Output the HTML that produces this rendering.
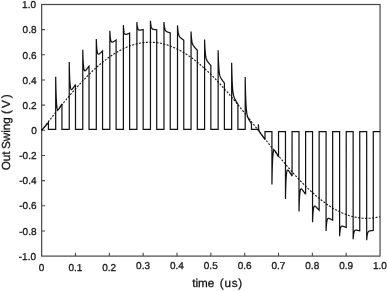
<!DOCTYPE html><html><head><meta charset="utf-8"><title>Out Swing</title><style>html,body{margin:0;padding:0;background:#fff}svg{display:block}text{font-family:"Liberation Sans",sans-serif;fill:#151515;stroke:#151515;stroke-width:0.3px;text-rendering:geometricPrecision}</style></head><body>
<svg width="387" height="291" viewBox="0 0 387 291">
<rect width="387" height="291" fill="#fff"/>
<rect x="41.65" y="4.50" width="338.40" height="251.60" fill="none" stroke="#484848" stroke-width="1.2"/>
<path d="M41.65 29.66 h3.4 M75.49 256.10 v-3.4 M41.65 54.82 h3.4 M109.33 256.10 v-3.4 M41.65 79.98 h3.4 M143.17 256.10 v-3.4 M41.65 105.14 h3.4 M177.01 256.10 v-3.4 M41.65 130.30 h3.4 M210.85 256.10 v-3.4 M41.65 155.46 h3.4 M244.69 256.10 v-3.4 M41.65 180.62 h3.4 M278.53 256.10 v-3.4 M41.65 205.78 h3.4 M312.37 256.10 v-3.4 M41.65 230.94 h3.4 M346.21 256.10 v-3.4" stroke="#484848" stroke-width="1.1" fill="none"/>
<text x="36.0" y="8.20" font-size="10" text-anchor="end">1.0</text>
<text x="36.5" y="33.36" font-size="10" text-anchor="end">0.8</text>
<text x="36.5" y="58.52" font-size="10" text-anchor="end">0.6</text>
<text x="36.5" y="83.68" font-size="10" text-anchor="end">0.4</text>
<text x="36.5" y="108.84" font-size="10" text-anchor="end">0.2</text>
<text x="36.7" y="134.00" font-size="10" text-anchor="end">0</text>
<text x="36.5" y="159.16" font-size="10" text-anchor="end">-0.2</text>
<text x="36.5" y="184.32" font-size="10" text-anchor="end">-0.4</text>
<text x="36.5" y="209.48" font-size="10" text-anchor="end">-0.6</text>
<text x="36.5" y="234.64" font-size="10" text-anchor="end">-0.8</text>
<text x="36.0" y="259.80" font-size="10" text-anchor="end">-1.0</text>
<text x="41.55" y="270.60" font-size="10" text-anchor="middle">0</text>
<text x="75.39" y="270.60" font-size="10" text-anchor="middle">0.1</text>
<text x="109.23" y="270.60" font-size="10" text-anchor="middle">0.2</text>
<text x="143.07" y="268.80" font-size="10" text-anchor="middle">0.3</text>
<text x="176.91" y="268.80" font-size="10" text-anchor="middle">0.4</text>
<text x="210.75" y="268.80" font-size="10" text-anchor="middle">0.5</text>
<text x="244.59" y="268.80" font-size="10" text-anchor="middle">0.6</text>
<text x="278.43" y="268.80" font-size="10" text-anchor="middle">0.7</text>
<text x="312.27" y="268.80" font-size="10" text-anchor="middle">0.8</text>
<text x="346.11" y="268.80" font-size="10" text-anchor="middle">0.9</text>
<text x="379.95" y="268.80" font-size="10" text-anchor="middle">1.0</text>
<text x="192.2" y="287" font-size="11.7">time</text>
<text x="219.8" y="287" font-size="11.7" letter-spacing="0.75">(us)</text>
<text transform="translate(9.9,170.3) rotate(-90)" font-size="11.7">Out</text>
<text transform="translate(9.9,149.1) rotate(-90)" font-size="11.7">Swing</text>
<text transform="translate(9.9,114.0) rotate(-90)" font-size="11.7" letter-spacing="2">(V)</text>
<path d="M41.65 130.30 L41.65 130.30 L48.42 122.50 L48.42 129.29 L55.69 129.29 L55.69 76.84 L55.72 78.59 L55.76 80.26 L55.79 81.85 L55.82 83.36 L55.85 84.80 L55.88 86.16 L55.91 87.46 L55.94 88.69 L55.98 89.86 L56.01 90.98 L56.04 92.03 L56.07 93.04 L56.10 93.99 L56.13 94.90 L56.16 95.76 L56.19 96.58 L56.23 97.35 L56.26 98.09 L56.29 98.79 L56.32 99.45 L56.35 100.08 L56.38 100.68 L56.41 101.24 L56.44 101.78 L56.48 102.28 L56.51 102.76 L56.54 103.22 L56.57 103.65 L56.60 104.06 L56.63 104.44 L56.66 104.81 L56.70 105.15 L56.73 105.48 L56.76 105.79 L56.79 106.08 L56.82 106.35 L56.85 106.61 L56.88 106.85 L56.91 107.08 L56.95 107.29 L56.98 107.50 L57.01 107.69 L57.04 107.87 L57.07 108.03 L57.10 108.19 L57.13 108.34 L57.16 108.47 L57.20 108.60 L57.23 108.72 L57.26 108.83 L57.29 108.93 L57.32 109.03 L57.35 109.12 L57.38 109.20 L57.42 109.27 L57.45 109.34 L57.48 109.40 L57.51 109.46 L57.54 109.51 L57.57 109.56 L57.60 109.60 L57.63 109.64 L57.67 109.67 L57.70 109.70 L57.73 109.72 L57.76 109.74 L57.79 109.76 L57.82 109.77 L57.85 109.78 L57.88 109.79 L57.92 109.79 L57.95 109.79 L57.98 109.79 L58.01 109.79 L58.04 109.78 L58.07 109.77 L58.10 109.76 L58.14 109.75 L58.17 109.73 L58.20 109.72 L58.23 109.70 L58.26 109.67 L58.29 109.65 L58.32 109.63 L58.35 109.60 L58.39 109.58 L58.42 109.55 L58.45 109.52 L58.48 109.49 L58.51 109.45 L58.54 109.42 L58.57 109.39 L58.60 109.35 L58.64 109.31 L58.67 109.28 L58.70 109.24 L58.73 109.20 L58.76 109.16 L58.79 109.12 L58.82 109.08 L58.86 109.03 L58.89 108.99 L58.92 108.95 L58.95 108.90 L58.98 108.86 L59.01 108.81 L59.04 108.77 L59.07 108.72 L59.11 108.67 L59.14 108.63 L59.17 108.58 L59.20 108.53 L59.23 108.48 L59.26 108.43 L59.29 108.39 L59.32 108.34 L59.36 108.29 L59.39 108.24 L59.42 108.19 L59.45 108.14 L59.48 108.08 L59.51 108.03 L59.54 107.98 L59.58 107.93 L59.61 107.88 L59.64 107.83 L59.67 107.77 L59.70 107.72 L59.73 107.67 L59.76 107.62 L59.79 107.56 L59.83 107.51 L59.86 107.46 L59.89 107.40 L59.92 107.35 L59.95 107.30 L59.98 107.24 L60.01 107.19 L60.04 107.14 L60.08 107.08 L60.11 107.03 L60.14 106.97 L60.17 106.92 L60.20 106.86 L60.23 106.81 L60.26 106.76 L60.29 106.70 L60.33 106.65 L60.36 106.59 L60.39 106.54 L60.42 106.48 L60.45 106.43 L60.48 106.37 L60.51 106.32 L60.55 106.26 L60.58 106.21 L60.61 106.15 L60.64 106.10 L60.67 106.04 L60.70 105.99 L60.73 105.93 L60.76 105.87 L60.80 105.82 L60.83 105.76 L60.86 105.71 L60.89 105.65 L60.92 105.60 L60.95 105.54 L60.98 105.49 L61.01 105.43 L61.05 105.37 L61.08 105.32 L61.11 105.26 L61.14 105.21 L61.17 105.15 L61.20 105.10 L61.23 105.04 L61.27 104.98 L61.30 104.93 L61.33 104.87 L61.36 104.82 L61.39 104.76 L61.42 104.71 L61.45 104.65 L61.48 104.59 L61.52 104.54 L61.55 104.48 L61.58 104.43 L61.61 104.37 L61.64 104.31 L61.67 104.26 L61.70 104.20 L61.73 104.15 L61.77 104.09 L61.80 104.03 L61.83 103.98 L61.86 103.92 L61.89 103.87 L61.92 103.81 L61.95 103.75 L61.95 129.29 L69.23 129.29 L69.23 62.05 L69.26 63.52 L69.29 64.92 L69.32 66.25 L69.35 67.51 L69.39 68.71 L69.42 69.85 L69.45 70.94 L69.48 71.97 L69.51 72.95 L69.54 73.88 L69.57 74.77 L69.61 75.61 L69.64 76.40 L69.67 77.16 L69.70 77.88 L69.73 78.57 L69.76 79.21 L69.79 79.83 L69.82 80.41 L69.86 80.97 L69.89 81.49 L69.92 81.99 L69.95 82.46 L69.98 82.91 L70.01 83.34 L70.04 83.74 L70.07 84.12 L70.11 84.48 L70.14 84.82 L70.17 85.14 L70.20 85.45 L70.23 85.73 L70.26 86.01 L70.29 86.26 L70.33 86.51 L70.36 86.73 L70.39 86.95 L70.42 87.15 L70.45 87.34 L70.48 87.52 L70.51 87.69 L70.54 87.85 L70.58 88.00 L70.61 88.14 L70.64 88.27 L70.67 88.39 L70.70 88.51 L70.73 88.61 L70.76 88.71 L70.79 88.80 L70.83 88.89 L70.86 88.97 L70.89 89.04 L70.92 89.11 L70.95 89.17 L70.98 89.23 L71.01 89.28 L71.05 89.33 L71.08 89.37 L71.11 89.41 L71.14 89.44 L71.17 89.48 L71.20 89.50 L71.23 89.53 L71.26 89.55 L71.30 89.56 L71.33 89.58 L71.36 89.59 L71.39 89.59 L71.42 89.60 L71.45 89.60 L71.48 89.60 L71.51 89.60 L71.55 89.60 L71.58 89.59 L71.61 89.58 L71.64 89.57 L71.67 89.56 L71.70 89.55 L71.73 89.53 L71.77 89.52 L71.80 89.50 L71.83 89.48 L71.86 89.46 L71.89 89.44 L71.92 89.42 L71.95 89.39 L71.98 89.37 L72.02 89.34 L72.05 89.31 L72.08 89.28 L72.11 89.25 L72.14 89.22 L72.17 89.19 L72.20 89.16 L72.23 89.13 L72.27 89.10 L72.30 89.06 L72.33 89.03 L72.36 88.99 L72.39 88.96 L72.42 88.92 L72.45 88.88 L72.49 88.85 L72.52 88.81 L72.55 88.77 L72.58 88.73 L72.61 88.69 L72.64 88.65 L72.67 88.61 L72.70 88.57 L72.74 88.53 L72.77 88.49 L72.80 88.45 L72.83 88.41 L72.86 88.37 L72.89 88.33 L72.92 88.28 L72.95 88.24 L72.99 88.20 L73.02 88.16 L73.05 88.11 L73.08 88.07 L73.11 88.03 L73.14 87.98 L73.17 87.94 L73.20 87.90 L73.24 87.85 L73.27 87.81 L73.30 87.76 L73.33 87.72 L73.36 87.67 L73.39 87.63 L73.42 87.58 L73.46 87.54 L73.49 87.49 L73.52 87.45 L73.55 87.40 L73.58 87.36 L73.61 87.31 L73.64 87.27 L73.67 87.22 L73.71 87.17 L73.74 87.13 L73.77 87.08 L73.80 87.04 L73.83 86.99 L73.86 86.94 L73.89 86.90 L73.92 86.85 L73.96 86.81 L73.99 86.76 L74.02 86.71 L74.05 86.67 L74.08 86.62 L74.11 86.57 L74.14 86.53 L74.18 86.48 L74.21 86.43 L74.24 86.39 L74.27 86.34 L74.30 86.29 L74.33 86.25 L74.36 86.20 L74.39 86.15 L74.43 86.11 L74.46 86.06 L74.49 86.01 L74.52 85.97 L74.55 85.92 L74.58 85.87 L74.61 85.83 L74.64 85.78 L74.68 85.73 L74.71 85.68 L74.74 85.64 L74.77 85.59 L74.80 85.54 L74.83 85.50 L74.86 85.45 L74.90 85.40 L74.93 85.36 L74.96 85.31 L74.99 85.26 L75.02 85.21 L75.05 85.17 L75.08 85.12 L75.11 85.07 L75.15 85.03 L75.18 84.98 L75.21 84.93 L75.24 84.88 L75.27 84.84 L75.30 84.79 L75.33 84.74 L75.36 84.70 L75.40 84.65 L75.43 84.60 L75.46 84.55 L75.49 84.51 L75.49 129.29 L82.77 129.29 L82.77 49.79 L82.80 50.92 L82.83 52.00 L82.86 53.03 L82.89 54.00 L82.92 54.93 L82.95 55.81 L82.98 56.65 L83.02 57.44 L83.05 58.20 L83.08 58.92 L83.11 59.60 L83.14 60.24 L83.17 60.86 L83.20 61.44 L83.24 62.00 L83.27 62.52 L83.30 63.02 L83.33 63.49 L83.36 63.94 L83.39 64.36 L83.42 64.77 L83.45 65.15 L83.49 65.51 L83.52 65.85 L83.55 66.17 L83.58 66.48 L83.61 66.77 L83.64 67.05 L83.67 67.30 L83.70 67.55 L83.74 67.78 L83.77 68.00 L83.80 68.20 L83.83 68.40 L83.86 68.58 L83.89 68.75 L83.92 68.92 L83.96 69.07 L83.99 69.21 L84.02 69.34 L84.05 69.47 L84.08 69.59 L84.11 69.70 L84.14 69.80 L84.17 69.90 L84.21 69.99 L84.24 70.07 L84.27 70.15 L84.30 70.22 L84.33 70.29 L84.36 70.35 L84.39 70.40 L84.42 70.45 L84.46 70.50 L84.49 70.54 L84.52 70.58 L84.55 70.62 L84.58 70.65 L84.61 70.68 L84.64 70.70 L84.68 70.72 L84.71 70.74 L84.74 70.76 L84.77 70.77 L84.80 70.78 L84.83 70.79 L84.86 70.79 L84.89 70.80 L84.93 70.80 L84.96 70.80 L84.99 70.79 L85.02 70.79 L85.05 70.78 L85.08 70.77 L85.11 70.76 L85.14 70.75 L85.18 70.74 L85.21 70.72 L85.24 70.71 L85.27 70.69 L85.30 70.67 L85.33 70.65 L85.36 70.63 L85.39 70.61 L85.43 70.59 L85.46 70.57 L85.49 70.54 L85.52 70.52 L85.55 70.49 L85.58 70.46 L85.61 70.44 L85.65 70.41 L85.68 70.38 L85.71 70.35 L85.74 70.32 L85.77 70.29 L85.80 70.26 L85.83 70.23 L85.86 70.19 L85.90 70.16 L85.93 70.13 L85.96 70.10 L85.99 70.06 L86.02 70.03 L86.05 69.99 L86.08 69.96 L86.11 69.92 L86.15 69.89 L86.18 69.85 L86.21 69.81 L86.24 69.78 L86.27 69.74 L86.30 69.70 L86.33 69.67 L86.37 69.63 L86.40 69.59 L86.43 69.55 L86.46 69.52 L86.49 69.48 L86.52 69.44 L86.55 69.40 L86.58 69.36 L86.62 69.32 L86.65 69.28 L86.68 69.24 L86.71 69.20 L86.74 69.16 L86.77 69.12 L86.80 69.09 L86.83 69.05 L86.87 69.01 L86.90 68.97 L86.93 68.92 L86.96 68.88 L86.99 68.84 L87.02 68.80 L87.05 68.76 L87.09 68.72 L87.12 68.68 L87.15 68.64 L87.18 68.60 L87.21 68.56 L87.24 68.52 L87.27 68.48 L87.30 68.44 L87.34 68.40 L87.37 68.35 L87.40 68.31 L87.43 68.27 L87.46 68.23 L87.49 68.19 L87.52 68.15 L87.55 68.11 L87.59 68.07 L87.62 68.02 L87.65 67.98 L87.68 67.94 L87.71 67.90 L87.74 67.86 L87.77 67.82 L87.81 67.77 L87.84 67.73 L87.87 67.69 L87.90 67.65 L87.93 67.61 L87.96 67.57 L87.99 67.52 L88.02 67.48 L88.06 67.44 L88.09 67.40 L88.12 67.36 L88.15 67.32 L88.18 67.27 L88.21 67.23 L88.24 67.19 L88.27 67.15 L88.31 67.11 L88.34 67.06 L88.37 67.02 L88.40 66.98 L88.43 66.94 L88.46 66.90 L88.49 66.85 L88.53 66.81 L88.56 66.77 L88.59 66.73 L88.62 66.69 L88.65 66.64 L88.68 66.60 L88.71 66.56 L88.74 66.52 L88.78 66.48 L88.81 66.43 L88.84 66.39 L88.87 66.35 L88.90 66.31 L88.93 66.27 L88.96 66.22 L88.99 66.18 L89.03 66.14 L89.03 129.29 L96.30 129.29 L96.30 39.04 L96.33 39.86 L96.36 40.64 L96.40 41.38 L96.43 42.08 L96.46 42.75 L96.49 43.38 L96.52 43.98 L96.55 44.55 L96.58 45.10 L96.61 45.61 L96.65 46.10 L96.68 46.57 L96.71 47.01 L96.74 47.43 L96.77 47.83 L96.80 48.21 L96.83 48.57 L96.87 48.91 L96.90 49.23 L96.93 49.54 L96.96 49.83 L96.99 50.10 L97.02 50.36 L97.05 50.61 L97.08 50.84 L97.12 51.06 L97.15 51.27 L97.18 51.47 L97.21 51.66 L97.24 51.83 L97.27 52.00 L97.30 52.16 L97.33 52.31 L97.37 52.45 L97.40 52.58 L97.43 52.70 L97.46 52.82 L97.49 52.93 L97.52 53.03 L97.55 53.13 L97.58 53.22 L97.62 53.31 L97.65 53.39 L97.68 53.46 L97.71 53.53 L97.74 53.60 L97.77 53.66 L97.80 53.71 L97.84 53.76 L97.87 53.81 L97.90 53.86 L97.93 53.90 L97.96 53.94 L97.99 53.97 L98.02 54.00 L98.05 54.03 L98.09 54.06 L98.12 54.08 L98.15 54.10 L98.18 54.12 L98.21 54.13 L98.24 54.15 L98.27 54.16 L98.30 54.17 L98.34 54.18 L98.37 54.18 L98.40 54.19 L98.43 54.19 L98.46 54.19 L98.49 54.19 L98.52 54.19 L98.56 54.19 L98.59 54.18 L98.62 54.18 L98.65 54.17 L98.68 54.16 L98.71 54.15 L98.74 54.14 L98.77 54.13 L98.81 54.12 L98.84 54.11 L98.87 54.10 L98.90 54.08 L98.93 54.07 L98.96 54.05 L98.99 54.03 L99.02 54.02 L99.06 54.00 L99.09 53.98 L99.12 53.96 L99.15 53.94 L99.18 53.93 L99.21 53.91 L99.24 53.88 L99.28 53.86 L99.31 53.84 L99.34 53.82 L99.37 53.80 L99.40 53.78 L99.43 53.75 L99.46 53.73 L99.49 53.71 L99.53 53.68 L99.56 53.66 L99.59 53.63 L99.62 53.61 L99.65 53.58 L99.68 53.56 L99.71 53.53 L99.74 53.51 L99.78 53.48 L99.81 53.46 L99.84 53.43 L99.87 53.40 L99.90 53.38 L99.93 53.35 L99.96 53.33 L100.00 53.30 L100.03 53.27 L100.06 53.24 L100.09 53.22 L100.12 53.19 L100.15 53.16 L100.18 53.13 L100.21 53.11 L100.25 53.08 L100.28 53.05 L100.31 53.02 L100.34 53.00 L100.37 52.97 L100.40 52.94 L100.43 52.91 L100.46 52.88 L100.50 52.85 L100.53 52.83 L100.56 52.80 L100.59 52.77 L100.62 52.74 L100.65 52.71 L100.68 52.68 L100.72 52.65 L100.75 52.62 L100.78 52.60 L100.81 52.57 L100.84 52.54 L100.87 52.51 L100.90 52.48 L100.93 52.45 L100.97 52.42 L101.00 52.39 L101.03 52.36 L101.06 52.33 L101.09 52.31 L101.12 52.28 L101.15 52.25 L101.18 52.22 L101.22 52.19 L101.25 52.16 L101.28 52.13 L101.31 52.10 L101.34 52.07 L101.37 52.04 L101.40 52.01 L101.44 51.98 L101.47 51.95 L101.50 51.92 L101.53 51.89 L101.56 51.87 L101.59 51.84 L101.62 51.81 L101.65 51.78 L101.69 51.75 L101.72 51.72 L101.75 51.69 L101.78 51.66 L101.81 51.63 L101.84 51.60 L101.87 51.57 L101.90 51.54 L101.94 51.51 L101.97 51.48 L102.00 51.45 L102.03 51.42 L102.06 51.39 L102.09 51.36 L102.12 51.33 L102.16 51.30 L102.19 51.27 L102.22 51.25 L102.25 51.22 L102.28 51.19 L102.31 51.16 L102.34 51.13 L102.37 51.10 L102.41 51.07 L102.44 51.04 L102.47 51.01 L102.50 50.98 L102.53 50.95 L102.56 50.92 L102.56 129.29 L109.84 129.29 L109.84 30.70 L109.87 31.31 L109.90 31.89 L109.93 32.44 L109.96 32.96 L109.99 33.45 L110.03 33.92 L110.06 34.37 L110.09 34.80 L110.12 35.20 L110.15 35.59 L110.18 35.95 L110.21 36.30 L110.24 36.63 L110.28 36.94 L110.31 37.24 L110.34 37.52 L110.37 37.79 L110.40 38.05 L110.43 38.29 L110.46 38.52 L110.49 38.73 L110.53 38.94 L110.56 39.14 L110.59 39.32 L110.62 39.50 L110.65 39.66 L110.68 39.82 L110.71 39.97 L110.75 40.11 L110.78 40.24 L110.81 40.37 L110.84 40.49 L110.87 40.60 L110.90 40.71 L110.93 40.81 L110.96 40.91 L111.00 41.00 L111.03 41.08 L111.06 41.16 L111.09 41.23 L111.12 41.30 L111.15 41.37 L111.18 41.43 L111.21 41.49 L111.25 41.55 L111.28 41.60 L111.31 41.64 L111.34 41.69 L111.37 41.73 L111.40 41.77 L111.43 41.81 L111.47 41.84 L111.50 41.87 L111.53 41.90 L111.56 41.92 L111.59 41.95 L111.62 41.97 L111.65 41.99 L111.68 42.01 L111.72 42.03 L111.75 42.04 L111.78 42.05 L111.81 42.07 L111.84 42.08 L111.87 42.09 L111.90 42.09 L111.93 42.10 L111.97 42.10 L112.00 42.11 L112.03 42.11 L112.06 42.11 L112.09 42.11 L112.12 42.11 L112.15 42.11 L112.19 42.11 L112.22 42.11 L112.25 42.11 L112.28 42.10 L112.31 42.10 L112.34 42.09 L112.37 42.09 L112.40 42.08 L112.44 42.07 L112.47 42.06 L112.50 42.05 L112.53 42.05 L112.56 42.04 L112.59 42.03 L112.62 42.02 L112.65 42.01 L112.69 42.00 L112.72 41.98 L112.75 41.97 L112.78 41.96 L112.81 41.95 L112.84 41.94 L112.87 41.92 L112.91 41.91 L112.94 41.90 L112.97 41.88 L113.00 41.87 L113.03 41.85 L113.06 41.84 L113.09 41.82 L113.12 41.81 L113.16 41.79 L113.19 41.78 L113.22 41.76 L113.25 41.75 L113.28 41.73 L113.31 41.72 L113.34 41.70 L113.37 41.68 L113.41 41.67 L113.44 41.65 L113.47 41.64 L113.50 41.62 L113.53 41.60 L113.56 41.59 L113.59 41.57 L113.63 41.55 L113.66 41.53 L113.69 41.52 L113.72 41.50 L113.75 41.48 L113.78 41.47 L113.81 41.45 L113.84 41.43 L113.88 41.41 L113.91 41.39 L113.94 41.38 L113.97 41.36 L114.00 41.34 L114.03 41.32 L114.06 41.31 L114.09 41.29 L114.13 41.27 L114.16 41.25 L114.19 41.23 L114.22 41.22 L114.25 41.20 L114.28 41.18 L114.31 41.16 L114.35 41.14 L114.38 41.12 L114.41 41.11 L114.44 41.09 L114.47 41.07 L114.50 41.05 L114.53 41.03 L114.56 41.01 L114.60 41.00 L114.63 40.98 L114.66 40.96 L114.69 40.94 L114.72 40.92 L114.75 40.90 L114.78 40.89 L114.81 40.87 L114.85 40.85 L114.88 40.83 L114.91 40.81 L114.94 40.79 L114.97 40.77 L115.00 40.76 L115.03 40.74 L115.07 40.72 L115.10 40.70 L115.13 40.68 L115.16 40.66 L115.19 40.64 L115.22 40.63 L115.25 40.61 L115.28 40.59 L115.32 40.57 L115.35 40.55 L115.38 40.53 L115.41 40.51 L115.44 40.49 L115.47 40.48 L115.50 40.46 L115.53 40.44 L115.57 40.42 L115.60 40.40 L115.63 40.38 L115.66 40.36 L115.69 40.34 L115.72 40.33 L115.75 40.31 L115.78 40.29 L115.82 40.27 L115.85 40.25 L115.88 40.23 L115.91 40.21 L115.94 40.19 L115.97 40.18 L116.00 40.16 L116.04 40.14 L116.07 40.12 L116.10 40.10 L116.10 129.29 L123.37 129.29 L123.37 25.13 L123.40 25.62 L123.44 26.09 L123.47 26.54 L123.50 26.96 L123.53 27.36 L123.56 27.75 L123.59 28.11 L123.62 28.46 L123.66 28.79 L123.69 29.10 L123.72 29.40 L123.75 29.68 L123.78 29.95 L123.81 30.20 L123.84 30.45 L123.87 30.68 L123.91 30.89 L123.94 31.10 L123.97 31.30 L124.00 31.49 L124.03 31.66 L124.06 31.83 L124.09 31.99 L124.12 32.14 L124.16 32.29 L124.19 32.43 L124.22 32.55 L124.25 32.68 L124.28 32.79 L124.31 32.90 L124.34 33.01 L124.38 33.11 L124.41 33.20 L124.44 33.29 L124.47 33.37 L124.50 33.45 L124.53 33.52 L124.56 33.59 L124.59 33.66 L124.63 33.72 L124.66 33.78 L124.69 33.84 L124.72 33.89 L124.75 33.94 L124.78 33.99 L124.81 34.03 L124.84 34.07 L124.88 34.11 L124.91 34.14 L124.94 34.18 L124.97 34.21 L125.00 34.24 L125.03 34.26 L125.06 34.29 L125.10 34.31 L125.13 34.33 L125.16 34.35 L125.19 34.37 L125.22 34.39 L125.25 34.40 L125.28 34.42 L125.31 34.43 L125.35 34.44 L125.38 34.45 L125.41 34.46 L125.44 34.47 L125.47 34.48 L125.50 34.48 L125.53 34.49 L125.56 34.49 L125.60 34.50 L125.63 34.50 L125.66 34.50 L125.69 34.50 L125.72 34.50 L125.75 34.50 L125.78 34.50 L125.82 34.50 L125.85 34.50 L125.88 34.50 L125.91 34.49 L125.94 34.49 L125.97 34.49 L126.00 34.48 L126.03 34.48 L126.07 34.47 L126.10 34.47 L126.13 34.46 L126.16 34.46 L126.19 34.45 L126.22 34.44 L126.25 34.43 L126.28 34.43 L126.32 34.42 L126.35 34.41 L126.38 34.40 L126.41 34.39 L126.44 34.39 L126.47 34.38 L126.50 34.37 L126.54 34.36 L126.57 34.35 L126.60 34.34 L126.63 34.33 L126.66 34.32 L126.69 34.31 L126.72 34.30 L126.75 34.29 L126.79 34.28 L126.82 34.27 L126.85 34.26 L126.88 34.25 L126.91 34.24 L126.94 34.22 L126.97 34.21 L127.00 34.20 L127.04 34.19 L127.07 34.18 L127.10 34.17 L127.13 34.16 L127.16 34.14 L127.19 34.13 L127.22 34.12 L127.26 34.11 L127.29 34.10 L127.32 34.08 L127.35 34.07 L127.38 34.06 L127.41 34.05 L127.44 34.04 L127.47 34.02 L127.51 34.01 L127.54 34.00 L127.57 33.99 L127.60 33.97 L127.63 33.96 L127.66 33.95 L127.69 33.94 L127.72 33.92 L127.76 33.91 L127.79 33.90 L127.82 33.89 L127.85 33.87 L127.88 33.86 L127.91 33.85 L127.94 33.83 L127.97 33.82 L128.01 33.81 L128.04 33.80 L128.07 33.78 L128.10 33.77 L128.13 33.76 L128.16 33.75 L128.19 33.73 L128.23 33.72 L128.26 33.71 L128.29 33.69 L128.32 33.68 L128.35 33.67 L128.38 33.65 L128.41 33.64 L128.44 33.63 L128.48 33.62 L128.51 33.60 L128.54 33.59 L128.57 33.58 L128.60 33.56 L128.63 33.55 L128.66 33.54 L128.69 33.52 L128.73 33.51 L128.76 33.50 L128.79 33.49 L128.82 33.47 L128.85 33.46 L128.88 33.45 L128.91 33.43 L128.95 33.42 L128.98 33.41 L129.01 33.39 L129.04 33.38 L129.07 33.37 L129.10 33.35 L129.13 33.34 L129.16 33.33 L129.20 33.32 L129.23 33.30 L129.26 33.29 L129.29 33.28 L129.32 33.26 L129.35 33.25 L129.38 33.24 L129.41 33.22 L129.45 33.21 L129.48 33.20 L129.51 33.18 L129.54 33.17 L129.57 33.16 L129.60 33.14 L129.63 33.13 L129.63 129.29 L136.91 129.29 L136.91 22.11 L136.94 22.52 L136.97 22.92 L137.00 23.29 L137.03 23.65 L137.07 23.98 L137.10 24.31 L137.13 24.61 L137.16 24.90 L137.19 25.18 L137.22 25.44 L137.25 25.69 L137.29 25.93 L137.32 26.16 L137.35 26.38 L137.38 26.58 L137.41 26.78 L137.44 26.96 L137.47 27.14 L137.50 27.31 L137.54 27.46 L137.57 27.62 L137.60 27.76 L137.63 27.90 L137.66 28.03 L137.69 28.15 L137.72 28.27 L137.75 28.38 L137.79 28.48 L137.82 28.58 L137.85 28.68 L137.88 28.77 L137.91 28.86 L137.94 28.94 L137.97 29.01 L138.01 29.09 L138.04 29.16 L138.07 29.22 L138.10 29.28 L138.13 29.34 L138.16 29.40 L138.19 29.45 L138.22 29.50 L138.26 29.55 L138.29 29.59 L138.32 29.64 L138.35 29.68 L138.38 29.71 L138.41 29.75 L138.44 29.78 L138.47 29.81 L138.51 29.84 L138.54 29.87 L138.57 29.90 L138.60 29.92 L138.63 29.95 L138.66 29.97 L138.69 29.99 L138.73 30.01 L138.76 30.02 L138.79 30.04 L138.82 30.06 L138.85 30.07 L138.88 30.09 L138.91 30.10 L138.94 30.11 L138.98 30.12 L139.01 30.13 L139.04 30.14 L139.07 30.15 L139.10 30.15 L139.13 30.16 L139.16 30.17 L139.19 30.17 L139.23 30.18 L139.26 30.18 L139.29 30.19 L139.32 30.19 L139.35 30.19 L139.38 30.20 L139.41 30.20 L139.45 30.20 L139.48 30.20 L139.51 30.20 L139.54 30.20 L139.57 30.20 L139.60 30.20 L139.63 30.20 L139.66 30.20 L139.70 30.20 L139.73 30.20 L139.76 30.19 L139.79 30.19 L139.82 30.19 L139.85 30.19 L139.88 30.18 L139.91 30.18 L139.95 30.18 L139.98 30.18 L140.01 30.17 L140.04 30.17 L140.07 30.16 L140.10 30.16 L140.13 30.16 L140.17 30.15 L140.20 30.15 L140.23 30.14 L140.26 30.14 L140.29 30.13 L140.32 30.13 L140.35 30.12 L140.38 30.12 L140.42 30.11 L140.45 30.11 L140.48 30.10 L140.51 30.10 L140.54 30.09 L140.57 30.09 L140.60 30.08 L140.63 30.08 L140.67 30.07 L140.70 30.06 L140.73 30.06 L140.76 30.05 L140.79 30.05 L140.82 30.04 L140.85 30.03 L140.88 30.03 L140.92 30.02 L140.95 30.02 L140.98 30.01 L141.01 30.00 L141.04 30.00 L141.07 29.99 L141.10 29.98 L141.14 29.98 L141.17 29.97 L141.20 29.97 L141.23 29.96 L141.26 29.95 L141.29 29.95 L141.32 29.94 L141.35 29.93 L141.39 29.93 L141.42 29.92 L141.45 29.91 L141.48 29.91 L141.51 29.90 L141.54 29.89 L141.57 29.89 L141.60 29.88 L141.64 29.87 L141.67 29.87 L141.70 29.86 L141.73 29.85 L141.76 29.85 L141.79 29.84 L141.82 29.83 L141.86 29.83 L141.89 29.82 L141.92 29.81 L141.95 29.80 L141.98 29.80 L142.01 29.79 L142.04 29.78 L142.07 29.78 L142.11 29.77 L142.14 29.76 L142.17 29.76 L142.20 29.75 L142.23 29.74 L142.26 29.74 L142.29 29.73 L142.32 29.72 L142.36 29.71 L142.39 29.71 L142.42 29.70 L142.45 29.69 L142.48 29.69 L142.51 29.68 L142.54 29.67 L142.58 29.67 L142.61 29.66 L142.64 29.65 L142.67 29.65 L142.70 29.64 L142.73 29.63 L142.76 29.62 L142.79 29.62 L142.83 29.61 L142.86 29.60 L142.89 29.60 L142.92 29.59 L142.95 29.58 L142.98 29.58 L143.01 29.57 L143.04 29.56 L143.08 29.55 L143.11 29.55 L143.14 29.54 L143.17 29.53 L143.17 129.29 L150.45 129.29 L150.45 20.79 L150.48 21.19 L150.51 21.58 L150.54 21.94 L150.57 22.29 L150.60 22.63 L150.63 22.94 L150.66 23.25 L150.70 23.53 L150.73 23.81 L150.76 24.07 L150.79 24.32 L150.82 24.55 L150.85 24.78 L150.88 25.00 L150.92 25.20 L150.95 25.40 L150.98 25.58 L151.01 25.76 L151.04 25.93 L151.07 26.09 L151.10 26.25 L151.13 26.39 L151.17 26.53 L151.20 26.67 L151.23 26.79 L151.26 26.92 L151.29 27.03 L151.32 27.14 L151.35 27.25 L151.38 27.35 L151.42 27.44 L151.45 27.54 L151.48 27.62 L151.51 27.71 L151.54 27.79 L151.57 27.86 L151.60 27.93 L151.64 28.00 L151.67 28.07 L151.70 28.13 L151.73 28.19 L151.76 28.25 L151.79 28.30 L151.82 28.35 L151.85 28.40 L151.89 28.45 L151.92 28.50 L151.95 28.54 L151.98 28.58 L152.01 28.62 L152.04 28.66 L152.07 28.70 L152.10 28.73 L152.14 28.76 L152.17 28.80 L152.20 28.83 L152.23 28.86 L152.26 28.88 L152.29 28.91 L152.32 28.94 L152.36 28.96 L152.39 28.98 L152.42 29.01 L152.45 29.03 L152.48 29.05 L152.51 29.07 L152.54 29.09 L152.57 29.10 L152.61 29.12 L152.64 29.14 L152.67 29.15 L152.70 29.17 L152.73 29.19 L152.76 29.20 L152.79 29.21 L152.82 29.23 L152.86 29.24 L152.89 29.25 L152.92 29.26 L152.95 29.27 L152.98 29.29 L153.01 29.30 L153.04 29.31 L153.07 29.32 L153.11 29.33 L153.14 29.34 L153.17 29.34 L153.20 29.35 L153.23 29.36 L153.26 29.37 L153.29 29.38 L153.33 29.38 L153.36 29.39 L153.39 29.40 L153.42 29.41 L153.45 29.41 L153.48 29.42 L153.51 29.43 L153.54 29.43 L153.58 29.44 L153.61 29.44 L153.64 29.45 L153.67 29.46 L153.70 29.46 L153.73 29.47 L153.76 29.47 L153.79 29.48 L153.83 29.48 L153.86 29.49 L153.89 29.49 L153.92 29.50 L153.95 29.50 L153.98 29.51 L154.01 29.51 L154.05 29.51 L154.08 29.52 L154.11 29.52 L154.14 29.53 L154.17 29.53 L154.20 29.53 L154.23 29.54 L154.26 29.54 L154.30 29.55 L154.33 29.55 L154.36 29.55 L154.39 29.56 L154.42 29.56 L154.45 29.57 L154.48 29.57 L154.51 29.57 L154.55 29.58 L154.58 29.58 L154.61 29.58 L154.64 29.59 L154.67 29.59 L154.70 29.59 L154.73 29.60 L154.77 29.60 L154.80 29.60 L154.83 29.61 L154.86 29.61 L154.89 29.61 L154.92 29.62 L154.95 29.62 L154.98 29.62 L155.02 29.63 L155.05 29.63 L155.08 29.63 L155.11 29.64 L155.14 29.64 L155.17 29.64 L155.20 29.64 L155.23 29.65 L155.27 29.65 L155.30 29.65 L155.33 29.66 L155.36 29.66 L155.39 29.66 L155.42 29.67 L155.45 29.67 L155.49 29.67 L155.52 29.68 L155.55 29.68 L155.58 29.68 L155.61 29.68 L155.64 29.69 L155.67 29.69 L155.70 29.69 L155.74 29.70 L155.77 29.70 L155.80 29.70 L155.83 29.70 L155.86 29.71 L155.89 29.71 L155.92 29.71 L155.95 29.72 L155.99 29.72 L156.02 29.72 L156.05 29.72 L156.08 29.73 L156.11 29.73 L156.14 29.73 L156.17 29.74 L156.21 29.74 L156.24 29.74 L156.27 29.75 L156.30 29.75 L156.33 29.75 L156.36 29.75 L156.39 29.76 L156.42 29.76 L156.46 29.76 L156.49 29.77 L156.52 29.77 L156.55 29.77 L156.58 29.77 L156.61 29.78 L156.64 29.78 L156.67 29.78 L156.71 29.79 L156.71 129.29 L163.98 129.29 L163.98 22.11 L164.01 22.54 L164.04 22.94 L164.08 23.33 L164.11 23.70 L164.14 24.05 L164.17 24.39 L164.20 24.71 L164.23 25.02 L164.26 25.31 L164.29 25.59 L164.33 25.85 L164.36 26.10 L164.39 26.35 L164.42 26.58 L164.45 26.80 L164.48 27.01 L164.51 27.21 L164.55 27.40 L164.58 27.59 L164.61 27.76 L164.64 27.93 L164.67 28.09 L164.70 28.24 L164.73 28.39 L164.76 28.53 L164.80 28.66 L164.83 28.79 L164.86 28.91 L164.89 29.03 L164.92 29.14 L164.95 29.24 L164.98 29.35 L165.01 29.44 L165.05 29.54 L165.08 29.63 L165.11 29.71 L165.14 29.80 L165.17 29.87 L165.20 29.95 L165.23 30.02 L165.26 30.09 L165.30 30.16 L165.33 30.22 L165.36 30.29 L165.39 30.34 L165.42 30.40 L165.45 30.46 L165.48 30.51 L165.52 30.56 L165.55 30.61 L165.58 30.65 L165.61 30.70 L165.64 30.74 L165.67 30.78 L165.70 30.83 L165.73 30.86 L165.77 30.90 L165.80 30.94 L165.83 30.97 L165.86 31.01 L165.89 31.04 L165.92 31.07 L165.95 31.10 L165.98 31.13 L166.02 31.16 L166.05 31.19 L166.08 31.22 L166.11 31.24 L166.14 31.27 L166.17 31.29 L166.20 31.32 L166.24 31.34 L166.27 31.36 L166.30 31.38 L166.33 31.41 L166.36 31.43 L166.39 31.45 L166.42 31.47 L166.45 31.49 L166.49 31.51 L166.52 31.53 L166.55 31.54 L166.58 31.56 L166.61 31.58 L166.64 31.60 L166.67 31.61 L166.70 31.63 L166.74 31.65 L166.77 31.66 L166.80 31.68 L166.83 31.70 L166.86 31.71 L166.89 31.73 L166.92 31.74 L166.96 31.76 L166.99 31.77 L167.02 31.78 L167.05 31.80 L167.08 31.81 L167.11 31.83 L167.14 31.84 L167.17 31.85 L167.21 31.87 L167.24 31.88 L167.27 31.89 L167.30 31.91 L167.33 31.92 L167.36 31.93 L167.39 31.94 L167.42 31.96 L167.46 31.97 L167.49 31.98 L167.52 31.99 L167.55 32.00 L167.58 32.02 L167.61 32.03 L167.64 32.04 L167.68 32.05 L167.71 32.06 L167.74 32.08 L167.77 32.09 L167.80 32.10 L167.83 32.11 L167.86 32.12 L167.89 32.13 L167.93 32.14 L167.96 32.16 L167.99 32.17 L168.02 32.18 L168.05 32.19 L168.08 32.20 L168.11 32.21 L168.14 32.22 L168.18 32.23 L168.21 32.24 L168.24 32.25 L168.27 32.27 L168.30 32.28 L168.33 32.29 L168.36 32.30 L168.40 32.31 L168.43 32.32 L168.46 32.33 L168.49 32.34 L168.52 32.35 L168.55 32.36 L168.58 32.37 L168.61 32.38 L168.65 32.40 L168.68 32.41 L168.71 32.42 L168.74 32.43 L168.77 32.44 L168.80 32.45 L168.83 32.46 L168.86 32.47 L168.90 32.48 L168.93 32.49 L168.96 32.50 L168.99 32.51 L169.02 32.52 L169.05 32.53 L169.08 32.54 L169.12 32.55 L169.15 32.56 L169.18 32.58 L169.21 32.59 L169.24 32.60 L169.27 32.61 L169.30 32.62 L169.33 32.63 L169.37 32.64 L169.40 32.65 L169.43 32.66 L169.46 32.67 L169.49 32.68 L169.52 32.69 L169.55 32.70 L169.58 32.71 L169.62 32.72 L169.65 32.73 L169.68 32.74 L169.71 32.75 L169.74 32.76 L169.77 32.77 L169.80 32.78 L169.84 32.79 L169.87 32.81 L169.90 32.82 L169.93 32.83 L169.96 32.84 L169.99 32.85 L170.02 32.86 L170.05 32.87 L170.09 32.88 L170.12 32.89 L170.15 32.90 L170.18 32.91 L170.21 32.92 L170.24 32.93 L170.24 129.29 L177.52 129.29 L177.52 25.38 L177.55 25.89 L177.58 26.37 L177.61 26.83 L177.64 27.27 L177.67 27.69 L177.71 28.09 L177.74 28.47 L177.77 28.83 L177.80 29.18 L177.83 29.52 L177.86 29.84 L177.89 30.14 L177.92 30.43 L177.96 30.71 L177.99 30.98 L178.02 31.23 L178.05 31.48 L178.08 31.71 L178.11 31.94 L178.14 32.15 L178.17 32.36 L178.21 32.55 L178.24 32.74 L178.27 32.92 L178.30 33.09 L178.33 33.26 L178.36 33.42 L178.39 33.57 L178.43 33.72 L178.46 33.86 L178.49 33.99 L178.52 34.12 L178.55 34.25 L178.58 34.37 L178.61 34.48 L178.64 34.60 L178.68 34.70 L178.71 34.81 L178.74 34.90 L178.77 35.00 L178.80 35.09 L178.83 35.18 L178.86 35.27 L178.89 35.35 L178.93 35.43 L178.96 35.51 L178.99 35.58 L179.02 35.65 L179.05 35.73 L179.08 35.79 L179.11 35.86 L179.15 35.92 L179.18 35.98 L179.21 36.04 L179.24 36.10 L179.27 36.16 L179.30 36.21 L179.33 36.27 L179.36 36.32 L179.40 36.37 L179.43 36.42 L179.46 36.47 L179.49 36.52 L179.52 36.56 L179.55 36.61 L179.58 36.65 L179.61 36.69 L179.65 36.74 L179.68 36.78 L179.71 36.82 L179.74 36.86 L179.77 36.90 L179.80 36.93 L179.83 36.97 L179.87 37.01 L179.90 37.04 L179.93 37.08 L179.96 37.11 L179.99 37.15 L180.02 37.18 L180.05 37.22 L180.08 37.25 L180.12 37.28 L180.15 37.31 L180.18 37.35 L180.21 37.38 L180.24 37.41 L180.27 37.44 L180.30 37.47 L180.33 37.50 L180.37 37.53 L180.40 37.56 L180.43 37.59 L180.46 37.62 L180.49 37.64 L180.52 37.67 L180.55 37.70 L180.59 37.73 L180.62 37.76 L180.65 37.78 L180.68 37.81 L180.71 37.84 L180.74 37.87 L180.77 37.89 L180.80 37.92 L180.84 37.95 L180.87 37.97 L180.90 38.00 L180.93 38.02 L180.96 38.05 L180.99 38.08 L181.02 38.10 L181.05 38.13 L181.09 38.15 L181.12 38.18 L181.15 38.20 L181.18 38.23 L181.21 38.26 L181.24 38.28 L181.27 38.31 L181.31 38.33 L181.34 38.36 L181.37 38.38 L181.40 38.41 L181.43 38.43 L181.46 38.46 L181.49 38.48 L181.52 38.50 L181.56 38.53 L181.59 38.55 L181.62 38.58 L181.65 38.60 L181.68 38.63 L181.71 38.65 L181.74 38.68 L181.77 38.70 L181.81 38.72 L181.84 38.75 L181.87 38.77 L181.90 38.80 L181.93 38.82 L181.96 38.85 L181.99 38.87 L182.03 38.89 L182.06 38.92 L182.09 38.94 L182.12 38.97 L182.15 38.99 L182.18 39.01 L182.21 39.04 L182.24 39.06 L182.28 39.09 L182.31 39.11 L182.34 39.13 L182.37 39.16 L182.40 39.18 L182.43 39.21 L182.46 39.23 L182.49 39.25 L182.53 39.28 L182.56 39.30 L182.59 39.32 L182.62 39.35 L182.65 39.37 L182.68 39.40 L182.71 39.42 L182.75 39.44 L182.78 39.47 L182.81 39.49 L182.84 39.52 L182.87 39.54 L182.90 39.56 L182.93 39.59 L182.96 39.61 L183.00 39.63 L183.03 39.66 L183.06 39.68 L183.09 39.71 L183.12 39.73 L183.15 39.75 L183.18 39.78 L183.21 39.80 L183.25 39.82 L183.28 39.85 L183.31 39.87 L183.34 39.89 L183.37 39.92 L183.40 39.94 L183.43 39.97 L183.46 39.99 L183.50 40.01 L183.53 40.04 L183.56 40.06 L183.59 40.08 L183.62 40.11 L183.65 40.13 L183.68 40.16 L183.72 40.18 L183.75 40.20 L183.78 40.23 L183.78 129.29 L191.05 129.29 L191.05 31.42 L191.08 32.03 L191.12 32.61 L191.15 33.16 L191.18 33.69 L191.21 34.20 L191.24 34.68 L191.27 35.15 L191.30 35.59 L191.34 36.01 L191.37 36.42 L191.40 36.80 L191.43 37.17 L191.46 37.53 L191.49 37.86 L191.52 38.19 L191.55 38.50 L191.59 38.80 L191.62 39.08 L191.65 39.35 L191.68 39.62 L191.71 39.87 L191.74 40.11 L191.77 40.34 L191.80 40.56 L191.84 40.77 L191.87 40.98 L191.90 41.17 L191.93 41.36 L191.96 41.54 L191.99 41.71 L192.02 41.88 L192.06 42.04 L192.09 42.20 L192.12 42.35 L192.15 42.49 L192.18 42.63 L192.21 42.76 L192.24 42.89 L192.27 43.01 L192.31 43.13 L192.34 43.25 L192.37 43.36 L192.40 43.47 L192.43 43.57 L192.46 43.68 L192.49 43.77 L192.52 43.87 L192.56 43.96 L192.59 44.05 L192.62 44.14 L192.65 44.22 L192.68 44.30 L192.71 44.38 L192.74 44.46 L192.78 44.54 L192.81 44.61 L192.84 44.68 L192.87 44.75 L192.90 44.82 L192.93 44.89 L192.96 44.95 L192.99 45.01 L193.03 45.08 L193.06 45.14 L193.09 45.20 L193.12 45.25 L193.15 45.31 L193.18 45.37 L193.21 45.42 L193.24 45.48 L193.28 45.53 L193.31 45.58 L193.34 45.63 L193.37 45.68 L193.40 45.73 L193.43 45.78 L193.46 45.83 L193.50 45.88 L193.53 45.92 L193.56 45.97 L193.59 46.02 L193.62 46.06 L193.65 46.10 L193.68 46.15 L193.71 46.19 L193.75 46.24 L193.78 46.28 L193.81 46.32 L193.84 46.36 L193.87 46.40 L193.90 46.45 L193.93 46.49 L193.96 46.53 L194.00 46.57 L194.03 46.61 L194.06 46.65 L194.09 46.69 L194.12 46.72 L194.15 46.76 L194.18 46.80 L194.22 46.84 L194.25 46.88 L194.28 46.92 L194.31 46.95 L194.34 46.99 L194.37 47.03 L194.40 47.07 L194.43 47.10 L194.47 47.14 L194.50 47.18 L194.53 47.21 L194.56 47.25 L194.59 47.29 L194.62 47.32 L194.65 47.36 L194.68 47.40 L194.72 47.43 L194.75 47.47 L194.78 47.50 L194.81 47.54 L194.84 47.57 L194.87 47.61 L194.90 47.65 L194.94 47.68 L194.97 47.72 L195.00 47.75 L195.03 47.79 L195.06 47.82 L195.09 47.86 L195.12 47.89 L195.15 47.93 L195.19 47.96 L195.22 48.00 L195.25 48.03 L195.28 48.07 L195.31 48.10 L195.34 48.14 L195.37 48.17 L195.40 48.21 L195.44 48.24 L195.47 48.27 L195.50 48.31 L195.53 48.34 L195.56 48.38 L195.59 48.41 L195.62 48.45 L195.65 48.48 L195.69 48.52 L195.72 48.55 L195.75 48.58 L195.78 48.62 L195.81 48.65 L195.84 48.69 L195.87 48.72 L195.91 48.76 L195.94 48.79 L195.97 48.82 L196.00 48.86 L196.03 48.89 L196.06 48.93 L196.09 48.96 L196.12 49.00 L196.16 49.03 L196.19 49.06 L196.22 49.10 L196.25 49.13 L196.28 49.17 L196.31 49.20 L196.34 49.24 L196.37 49.27 L196.41 49.30 L196.44 49.34 L196.47 49.37 L196.50 49.41 L196.53 49.44 L196.56 49.47 L196.59 49.51 L196.63 49.54 L196.66 49.58 L196.69 49.61 L196.72 49.64 L196.75 49.68 L196.78 49.71 L196.81 49.75 L196.84 49.78 L196.88 49.81 L196.91 49.85 L196.94 49.88 L196.97 49.92 L197.00 49.95 L197.03 49.98 L197.06 50.02 L197.09 50.05 L197.13 50.09 L197.16 50.12 L197.19 50.15 L197.22 50.19 L197.25 50.22 L197.28 50.26 L197.31 50.29 L197.31 129.29 L204.59 129.29 L204.59 39.51 L204.62 40.43 L204.65 41.31 L204.68 42.15 L204.71 42.95 L204.75 43.71 L204.78 44.44 L204.81 45.14 L204.84 45.80 L204.87 46.44 L204.90 47.04 L204.93 47.62 L204.97 48.18 L205.00 48.71 L205.03 49.21 L205.06 49.70 L205.09 50.16 L205.12 50.60 L205.15 51.02 L205.18 51.43 L205.22 51.82 L205.25 52.19 L205.28 52.54 L205.31 52.88 L205.34 53.21 L205.37 53.52 L205.40 53.82 L205.43 54.10 L205.47 54.38 L205.50 54.64 L205.53 54.89 L205.56 55.13 L205.59 55.37 L205.62 55.59 L205.65 55.80 L205.69 56.01 L205.72 56.21 L205.75 56.40 L205.78 56.58 L205.81 56.76 L205.84 56.92 L205.87 57.09 L205.90 57.24 L205.94 57.40 L205.97 57.54 L206.00 57.68 L206.03 57.82 L206.06 57.95 L206.09 58.08 L206.12 58.20 L206.15 58.32 L206.19 58.43 L206.22 58.54 L206.25 58.65 L206.28 58.75 L206.31 58.85 L206.34 58.95 L206.37 59.05 L206.41 59.14 L206.44 59.23 L206.47 59.32 L206.50 59.40 L206.53 59.48 L206.56 59.56 L206.59 59.64 L206.62 59.72 L206.66 59.79 L206.69 59.87 L206.72 59.94 L206.75 60.01 L206.78 60.07 L206.81 60.14 L206.84 60.20 L206.87 60.27 L206.91 60.33 L206.94 60.39 L206.97 60.45 L207.00 60.51 L207.03 60.57 L207.06 60.63 L207.09 60.68 L207.13 60.74 L207.16 60.79 L207.19 60.84 L207.22 60.90 L207.25 60.95 L207.28 61.00 L207.31 61.05 L207.34 61.10 L207.38 61.15 L207.41 61.20 L207.44 61.25 L207.47 61.29 L207.50 61.34 L207.53 61.39 L207.56 61.43 L207.59 61.48 L207.63 61.53 L207.66 61.57 L207.69 61.61 L207.72 61.66 L207.75 61.70 L207.78 61.75 L207.81 61.79 L207.85 61.83 L207.88 61.88 L207.91 61.92 L207.94 61.96 L207.97 62.00 L208.00 62.04 L208.03 62.09 L208.06 62.13 L208.10 62.17 L208.13 62.21 L208.16 62.25 L208.19 62.29 L208.22 62.33 L208.25 62.37 L208.28 62.41 L208.31 62.45 L208.35 62.49 L208.38 62.53 L208.41 62.57 L208.44 62.61 L208.47 62.65 L208.50 62.69 L208.53 62.73 L208.56 62.77 L208.60 62.80 L208.63 62.84 L208.66 62.88 L208.69 62.92 L208.72 62.96 L208.75 63.00 L208.78 63.04 L208.82 63.07 L208.85 63.11 L208.88 63.15 L208.91 63.19 L208.94 63.23 L208.97 63.27 L209.00 63.30 L209.03 63.34 L209.07 63.38 L209.10 63.42 L209.13 63.46 L209.16 63.49 L209.19 63.53 L209.22 63.57 L209.25 63.61 L209.28 63.64 L209.32 63.68 L209.35 63.72 L209.38 63.76 L209.41 63.80 L209.44 63.83 L209.47 63.87 L209.50 63.91 L209.54 63.95 L209.57 63.98 L209.60 64.02 L209.63 64.06 L209.66 64.10 L209.69 64.13 L209.72 64.17 L209.75 64.21 L209.79 64.25 L209.82 64.28 L209.85 64.32 L209.88 64.36 L209.91 64.39 L209.94 64.43 L209.97 64.47 L210.00 64.51 L210.04 64.54 L210.07 64.58 L210.10 64.62 L210.13 64.66 L210.16 64.69 L210.19 64.73 L210.22 64.77 L210.26 64.81 L210.29 64.84 L210.32 64.88 L210.35 64.92 L210.38 64.95 L210.41 64.99 L210.44 65.03 L210.47 65.07 L210.51 65.10 L210.54 65.14 L210.57 65.18 L210.60 65.21 L210.63 65.25 L210.66 65.29 L210.69 65.33 L210.72 65.36 L210.76 65.40 L210.79 65.44 L210.82 65.47 L210.85 65.51 L210.85 129.29 L218.13 129.29 L218.13 50.29 L218.16 51.50 L218.19 52.66 L218.22 53.76 L218.25 54.81 L218.28 55.81 L218.31 56.77 L218.34 57.68 L218.38 58.55 L218.41 59.39 L218.44 60.18 L218.47 60.94 L218.50 61.66 L218.53 62.36 L218.56 63.02 L218.60 63.65 L218.63 64.25 L218.66 64.83 L218.69 65.38 L218.72 65.91 L218.75 66.41 L218.78 66.90 L218.81 67.36 L218.85 67.80 L218.88 68.22 L218.91 68.62 L218.94 69.01 L218.97 69.38 L219.00 69.74 L219.03 70.08 L219.06 70.40 L219.10 70.71 L219.13 71.01 L219.16 71.30 L219.19 71.57 L219.22 71.84 L219.25 72.09 L219.28 72.33 L219.32 72.57 L219.35 72.79 L219.38 73.01 L219.41 73.22 L219.44 73.41 L219.47 73.61 L219.50 73.79 L219.53 73.97 L219.57 74.14 L219.60 74.31 L219.63 74.46 L219.66 74.62 L219.69 74.77 L219.72 74.91 L219.75 75.05 L219.78 75.18 L219.82 75.31 L219.85 75.43 L219.88 75.56 L219.91 75.67 L219.94 75.79 L219.97 75.90 L220.00 76.00 L220.04 76.11 L220.07 76.21 L220.10 76.30 L220.13 76.40 L220.16 76.49 L220.19 76.58 L220.22 76.67 L220.25 76.75 L220.29 76.84 L220.32 76.92 L220.35 77.00 L220.38 77.08 L220.41 77.15 L220.44 77.22 L220.47 77.30 L220.50 77.37 L220.54 77.44 L220.57 77.51 L220.60 77.57 L220.63 77.64 L220.66 77.70 L220.69 77.77 L220.72 77.83 L220.75 77.89 L220.79 77.95 L220.82 78.01 L220.85 78.07 L220.88 78.12 L220.91 78.18 L220.94 78.24 L220.97 78.29 L221.01 78.35 L221.04 78.40 L221.07 78.45 L221.10 78.50 L221.13 78.56 L221.16 78.61 L221.19 78.66 L221.22 78.71 L221.26 78.76 L221.29 78.81 L221.32 78.86 L221.35 78.91 L221.38 78.95 L221.41 79.00 L221.44 79.05 L221.47 79.10 L221.51 79.14 L221.54 79.19 L221.57 79.24 L221.60 79.28 L221.63 79.33 L221.66 79.37 L221.69 79.42 L221.73 79.46 L221.76 79.51 L221.79 79.55 L221.82 79.60 L221.85 79.64 L221.88 79.69 L221.91 79.73 L221.94 79.77 L221.98 79.82 L222.01 79.86 L222.04 79.91 L222.07 79.95 L222.10 79.99 L222.13 80.03 L222.16 80.08 L222.19 80.12 L222.23 80.16 L222.26 80.20 L222.29 80.25 L222.32 80.29 L222.35 80.33 L222.38 80.37 L222.41 80.42 L222.45 80.46 L222.48 80.50 L222.51 80.54 L222.54 80.58 L222.57 80.63 L222.60 80.67 L222.63 80.71 L222.66 80.75 L222.70 80.79 L222.73 80.83 L222.76 80.87 L222.79 80.92 L222.82 80.96 L222.85 81.00 L222.88 81.04 L222.91 81.08 L222.95 81.12 L222.98 81.16 L223.01 81.20 L223.04 81.25 L223.07 81.29 L223.10 81.33 L223.13 81.37 L223.17 81.41 L223.20 81.45 L223.23 81.49 L223.26 81.53 L223.29 81.57 L223.32 81.61 L223.35 81.66 L223.38 81.70 L223.42 81.74 L223.45 81.78 L223.48 81.82 L223.51 81.86 L223.54 81.90 L223.57 81.94 L223.60 81.98 L223.63 82.02 L223.67 82.06 L223.70 82.10 L223.73 82.14 L223.76 82.19 L223.79 82.23 L223.82 82.27 L223.85 82.31 L223.89 82.35 L223.92 82.39 L223.95 82.43 L223.98 82.47 L224.01 82.51 L224.04 82.55 L224.07 82.59 L224.10 82.63 L224.14 82.67 L224.17 82.71 L224.20 82.75 L224.23 82.79 L224.26 82.84 L224.29 82.88 L224.32 82.92 L224.35 82.96 L224.39 83.00 L224.39 129.29 L231.66 129.29 L231.66 62.80 L231.69 64.33 L231.72 65.80 L231.76 67.20 L231.79 68.54 L231.82 69.81 L231.85 71.03 L231.88 72.19 L231.91 73.30 L231.94 74.35 L231.97 75.36 L232.01 76.33 L232.04 77.25 L232.07 78.13 L232.10 78.97 L232.13 79.77 L232.16 80.54 L232.19 81.27 L232.23 81.97 L232.26 82.64 L232.29 83.28 L232.32 83.89 L232.35 84.48 L232.38 85.04 L232.41 85.58 L232.44 86.09 L232.48 86.58 L232.51 87.05 L232.54 87.50 L232.57 87.93 L232.60 88.34 L232.63 88.74 L232.66 89.12 L232.69 89.48 L232.73 89.83 L232.76 90.17 L232.79 90.49 L232.82 90.79 L232.85 91.09 L232.88 91.37 L232.91 91.65 L232.94 91.91 L232.98 92.16 L233.01 92.41 L233.04 92.64 L233.07 92.86 L233.10 93.08 L233.13 93.29 L233.16 93.49 L233.20 93.69 L233.23 93.87 L233.26 94.05 L233.29 94.23 L233.32 94.40 L233.35 94.56 L233.38 94.72 L233.41 94.87 L233.45 95.02 L233.48 95.16 L233.51 95.30 L233.54 95.44 L233.57 95.57 L233.60 95.69 L233.63 95.82 L233.66 95.94 L233.70 96.05 L233.73 96.17 L233.76 96.28 L233.79 96.38 L233.82 96.49 L233.85 96.59 L233.88 96.69 L233.92 96.79 L233.95 96.88 L233.98 96.97 L234.01 97.07 L234.04 97.15 L234.07 97.24 L234.10 97.33 L234.13 97.41 L234.17 97.49 L234.20 97.57 L234.23 97.65 L234.26 97.73 L234.29 97.81 L234.32 97.88 L234.35 97.96 L234.38 98.03 L234.42 98.10 L234.45 98.17 L234.48 98.24 L234.51 98.31 L234.54 98.38 L234.57 98.45 L234.60 98.51 L234.64 98.58 L234.67 98.65 L234.70 98.71 L234.73 98.77 L234.76 98.84 L234.79 98.90 L234.82 98.96 L234.85 99.02 L234.89 99.08 L234.92 99.14 L234.95 99.20 L234.98 99.26 L235.01 99.32 L235.04 99.38 L235.07 99.44 L235.10 99.50 L235.14 99.55 L235.17 99.61 L235.20 99.67 L235.23 99.72 L235.26 99.78 L235.29 99.84 L235.32 99.89 L235.36 99.95 L235.39 100.00 L235.42 100.06 L235.45 100.11 L235.48 100.17 L235.51 100.22 L235.54 100.28 L235.57 100.33 L235.61 100.38 L235.64 100.44 L235.67 100.49 L235.70 100.54 L235.73 100.60 L235.76 100.65 L235.79 100.70 L235.82 100.76 L235.86 100.81 L235.89 100.86 L235.92 100.91 L235.95 100.97 L235.98 101.02 L236.01 101.07 L236.04 101.12 L236.08 101.17 L236.11 101.23 L236.14 101.28 L236.17 101.33 L236.20 101.38 L236.23 101.43 L236.26 101.49 L236.29 101.54 L236.33 101.59 L236.36 101.64 L236.39 101.69 L236.42 101.74 L236.45 101.79 L236.48 101.85 L236.51 101.90 L236.54 101.95 L236.58 102.00 L236.61 102.05 L236.64 102.10 L236.67 102.15 L236.70 102.20 L236.73 102.26 L236.76 102.31 L236.80 102.36 L236.83 102.41 L236.86 102.46 L236.89 102.51 L236.92 102.56 L236.95 102.61 L236.98 102.66 L237.01 102.71 L237.05 102.76 L237.08 102.82 L237.11 102.87 L237.14 102.92 L237.17 102.97 L237.20 103.02 L237.23 103.07 L237.26 103.12 L237.30 103.17 L237.33 103.22 L237.36 103.27 L237.39 103.32 L237.42 103.37 L237.45 103.42 L237.48 103.47 L237.52 103.52 L237.55 103.58 L237.58 103.63 L237.61 103.68 L237.64 103.73 L237.67 103.78 L237.70 103.83 L237.73 103.88 L237.77 103.93 L237.80 103.98 L237.83 104.03 L237.86 104.08 L237.89 104.13 L237.92 104.18 L237.92 129.29 L245.20 129.29 L245.20 76.90 L245.23 78.69 L245.26 80.39 L245.29 82.02 L245.32 83.57 L245.35 85.05 L245.39 86.47 L245.42 87.82 L245.45 89.10 L245.48 90.33 L245.51 91.51 L245.54 92.63 L245.57 93.69 L245.60 94.71 L245.64 95.69 L245.67 96.62 L245.70 97.51 L245.73 98.36 L245.76 99.17 L245.79 99.94 L245.82 100.68 L245.85 101.39 L245.89 102.07 L245.92 102.72 L245.95 103.34 L245.98 103.93 L246.01 104.49 L246.04 105.04 L246.07 105.55 L246.11 106.05 L246.14 106.53 L246.17 106.98 L246.20 107.42 L246.23 107.84 L246.26 108.24 L246.29 108.62 L246.32 108.99 L246.36 109.34 L246.39 109.68 L246.42 110.01 L246.45 110.32 L246.48 110.62 L246.51 110.91 L246.54 111.18 L246.57 111.45 L246.61 111.71 L246.64 111.95 L246.67 112.19 L246.70 112.42 L246.73 112.64 L246.76 112.85 L246.79 113.05 L246.83 113.25 L246.86 113.44 L246.89 113.63 L246.92 113.80 L246.95 113.97 L246.98 114.14 L247.01 114.30 L247.04 114.46 L247.08 114.61 L247.11 114.75 L247.14 114.89 L247.17 115.03 L247.20 115.16 L247.23 115.29 L247.26 115.42 L247.29 115.54 L247.33 115.66 L247.36 115.77 L247.39 115.89 L247.42 116.00 L247.45 116.10 L247.48 116.21 L247.51 116.31 L247.55 116.41 L247.58 116.51 L247.61 116.60 L247.64 116.70 L247.67 116.79 L247.70 116.88 L247.73 116.96 L247.76 117.05 L247.80 117.13 L247.83 117.22 L247.86 117.30 L247.89 117.38 L247.92 117.46 L247.95 117.53 L247.98 117.61 L248.01 117.68 L248.05 117.76 L248.08 117.83 L248.11 117.90 L248.14 117.97 L248.17 118.04 L248.20 118.11 L248.23 118.18 L248.27 118.25 L248.30 118.32 L248.33 118.38 L248.36 118.45 L248.39 118.51 L248.42 118.58 L248.45 118.64 L248.48 118.70 L248.52 118.77 L248.55 118.83 L248.58 118.89 L248.61 118.95 L248.64 119.01 L248.67 119.07 L248.70 119.13 L248.73 119.19 L248.77 119.25 L248.80 119.31 L248.83 119.37 L248.86 119.43 L248.89 119.49 L248.92 119.54 L248.95 119.60 L248.99 119.66 L249.02 119.72 L249.05 119.77 L249.08 119.83 L249.11 119.89 L249.14 119.94 L249.17 120.00 L249.20 120.05 L249.24 120.11 L249.27 120.16 L249.30 120.22 L249.33 120.27 L249.36 120.33 L249.39 120.38 L249.42 120.44 L249.45 120.49 L249.49 120.55 L249.52 120.60 L249.55 120.66 L249.58 120.71 L249.61 120.77 L249.64 120.82 L249.67 120.87 L249.71 120.93 L249.74 120.98 L249.77 121.04 L249.80 121.09 L249.83 121.14 L249.86 121.20 L249.89 121.25 L249.92 121.30 L249.96 121.36 L249.99 121.41 L250.02 121.46 L250.05 121.52 L250.08 121.57 L250.11 121.62 L250.14 121.67 L250.17 121.73 L250.21 121.78 L250.24 121.83 L250.27 121.89 L250.30 121.94 L250.33 121.99 L250.36 122.05 L250.39 122.10 L250.43 122.15 L250.46 122.20 L250.49 122.26 L250.52 122.31 L250.55 122.36 L250.58 122.41 L250.61 122.47 L250.64 122.52 L250.68 122.57 L250.71 122.62 L250.74 122.68 L250.77 122.73 L250.80 122.78 L250.83 122.83 L250.86 122.89 L250.89 122.94 L250.93 122.99 L250.96 123.04 L250.99 123.10 L251.02 123.15 L251.05 123.20 L251.08 123.25 L251.11 123.31 L251.14 123.36 L251.18 123.41 L251.21 123.46 L251.24 123.52 L251.27 123.57 L251.30 123.62 L251.33 123.67 L251.36 123.73 L251.40 123.78 L251.43 123.83 L251.46 123.88 L251.46 129.29 L258.40 129.29 L258.40 124.20 L258.43 124.94 L258.46 125.61 L258.49 126.20 L258.53 126.74 L258.56 127.21 L258.59 127.64 L258.63 128.02 L258.66 128.36 L258.69 128.67 L258.73 128.95 L258.76 129.21 L258.79 129.43 L258.82 129.64 L258.86 129.83 L258.89 130.00 L258.92 130.16 L258.96 130.31 L258.99 130.44 L259.02 130.56 L259.06 130.68 L259.09 130.79 L259.12 130.89 L259.15 130.98 L259.19 131.07 L259.22 131.15 L259.25 131.23 L259.29 131.30 L259.32 131.38 L259.35 131.44 L259.39 131.51 L259.42 131.57 L259.45 131.64 L259.48 131.70 L259.52 131.75 L259.55 131.81 L259.58 131.87 L259.62 131.92 L259.65 131.97 L259.68 132.03 L259.71 132.08 L259.75 132.13 L259.78 132.18 L259.81 132.23 L259.85 132.28 L259.88 132.33 L259.91 132.38 L259.95 132.42 L259.98 132.47 L260.01 132.52 L260.04 132.57 L260.08 132.61 L260.11 132.66 L260.14 132.71 L260.18 132.75 L260.21 132.80 L260.24 132.85 L260.28 132.89 L260.31 132.94 L260.34 132.99 L260.37 133.03 L260.41 133.08 L260.44 133.12 L260.47 133.17 L260.51 133.22 L260.54 133.26 L260.57 133.31 L260.61 133.35 L260.64 133.40 L260.67 133.45 L260.70 133.49 L260.74 133.54 L260.77 133.58 L260.80 133.63 L260.84 133.67 L260.87 133.72 L260.90 133.77 L260.94 133.81 L260.97 133.86 L261.00 133.90 L261.03 133.95 L261.07 133.99 L261.10 134.04 L261.13 134.08 L261.17 134.13 L261.20 134.18 L261.23 134.22 L261.27 134.27 L261.30 134.31 L261.33 134.36 L261.36 134.40 L261.40 134.45 L261.43 134.50 L261.46 134.54 L261.50 134.59 L261.53 134.63 L261.56 134.68 L261.60 134.72 L261.63 134.77 L261.66 134.81 L261.69 134.86 L261.73 134.91 L261.76 134.95 L261.79 135.00 L261.83 135.04 L261.86 135.09 L261.89 135.13 L261.93 135.18 L261.96 135.23 L261.99 135.27 L262.02 135.32 L262.06 135.36 L262.09 135.41 L262.12 135.45 L262.16 135.50 L262.19 135.54 L262.22 135.59 L262.26 135.64 L262.29 135.68 L262.32 135.73 L262.35 135.77 L262.39 135.82 L262.42 135.86 L262.45 135.91 L262.49 135.95 L262.52 136.00 L262.55 136.05 L262.59 136.09 L262.62 136.14 L262.65 136.18 L262.68 136.23 L262.72 136.27 L262.75 136.32 L262.78 136.37 L262.82 136.41 L262.85 136.46 L262.88 136.50 L262.92 136.55 L262.95 136.59 L262.98 136.64 L263.01 136.68 L263.05 136.73 L263.08 136.78 L263.11 136.82 L263.15 136.87 L263.18 136.91 L263.21 136.96 L263.25 137.00 L263.28 137.05 L263.31 137.09 L263.34 137.14 L263.38 137.19 L263.41 137.23 L263.44 137.28 L263.48 137.32 L263.51 137.37 L263.54 137.41 L263.58 137.46 L263.61 137.51 L263.64 137.55 L263.67 137.60 L263.71 137.64 L263.74 137.69 L263.77 137.73 L263.81 137.78 L263.84 137.82 L263.87 137.87 L263.91 137.92 L263.94 137.96 L263.97 138.01 L264.00 138.05 L264.04 138.10 L264.07 138.14 L264.10 138.19 L264.14 138.23 L264.17 138.28 L264.20 138.33 L264.24 138.37 L264.27 138.42 L264.30 138.46 L264.33 138.51 L264.37 138.55 L264.40 138.60 L264.43 138.65 L264.47 138.69 L264.50 138.74 L264.53 138.78 L264.57 138.83 L264.60 138.87 L264.63 138.92 L264.66 138.96 L264.70 139.01 L264.73 139.06 L264.76 139.10 L264.80 139.15 L264.83 139.19 L264.86 139.24 L264.90 139.28 L264.93 139.33 L264.96 139.37 L264.99 139.42 L264.99 131.56 L271.93 131.56 L271.93 184.60 L271.96 182.67 L272.00 180.84 L272.03 179.11 L272.06 177.46 L272.10 175.91 L272.13 174.43 L272.16 173.03 L272.20 171.70 L272.23 170.44 L272.26 169.25 L272.29 168.12 L272.33 167.05 L272.36 166.04 L272.39 165.08 L272.43 164.17 L272.46 163.31 L272.49 162.50 L272.53 161.73 L272.56 161.00 L272.59 160.31 L272.62 159.66 L272.66 159.04 L272.69 158.46 L272.72 157.91 L272.76 157.39 L272.79 156.90 L272.82 156.44 L272.86 156.00 L272.89 155.59 L272.92 155.20 L272.95 154.83 L272.99 154.49 L273.02 154.16 L273.05 153.86 L273.09 153.57 L273.12 153.30 L273.15 153.05 L273.18 152.81 L273.22 152.59 L273.25 152.38 L273.28 152.19 L273.32 152.00 L273.35 151.83 L273.38 151.67 L273.42 151.53 L273.45 151.39 L273.48 151.26 L273.51 151.14 L273.55 151.04 L273.58 150.93 L273.61 150.84 L273.65 150.76 L273.68 150.68 L273.71 150.61 L273.75 150.54 L273.78 150.49 L273.81 150.43 L273.84 150.39 L273.88 150.35 L273.91 150.31 L273.94 150.28 L273.98 150.25 L274.01 150.23 L274.04 150.21 L274.08 150.20 L274.11 150.19 L274.14 150.18 L274.17 150.18 L274.21 150.18 L274.24 150.18 L274.27 150.18 L274.31 150.19 L274.34 150.20 L274.37 150.22 L274.41 150.23 L274.44 150.25 L274.47 150.27 L274.50 150.29 L274.54 150.32 L274.57 150.34 L274.60 150.37 L274.64 150.40 L274.67 150.43 L274.70 150.46 L274.74 150.49 L274.77 150.53 L274.80 150.57 L274.83 150.60 L274.87 150.64 L274.90 150.68 L274.93 150.72 L274.97 150.76 L275.00 150.81 L275.03 150.85 L275.07 150.89 L275.10 150.94 L275.13 150.98 L275.16 151.03 L275.20 151.08 L275.23 151.12 L275.26 151.17 L275.30 151.22 L275.33 151.27 L275.36 151.32 L275.40 151.37 L275.43 151.42 L275.46 151.48 L275.49 151.53 L275.53 151.58 L275.56 151.63 L275.59 151.69 L275.63 151.74 L275.66 151.79 L275.69 151.85 L275.73 151.90 L275.76 151.96 L275.79 152.01 L275.82 152.07 L275.86 152.12 L275.89 152.18 L275.92 152.23 L275.96 152.29 L275.99 152.35 L276.02 152.40 L276.06 152.46 L276.09 152.52 L276.12 152.57 L276.15 152.63 L276.19 152.69 L276.22 152.75 L276.25 152.80 L276.29 152.86 L276.32 152.92 L276.35 152.98 L276.39 153.03 L276.42 153.09 L276.45 153.15 L276.48 153.21 L276.52 153.27 L276.55 153.33 L276.58 153.39 L276.62 153.44 L276.65 153.50 L276.68 153.56 L276.72 153.62 L276.75 153.68 L276.78 153.74 L276.81 153.80 L276.85 153.86 L276.88 153.92 L276.91 153.98 L276.95 154.04 L276.98 154.09 L277.01 154.15 L277.05 154.21 L277.08 154.27 L277.11 154.33 L277.14 154.39 L277.18 154.45 L277.21 154.51 L277.24 154.57 L277.28 154.63 L277.31 154.69 L277.34 154.75 L277.38 154.81 L277.41 154.87 L277.44 154.93 L277.47 154.99 L277.51 155.05 L277.54 155.11 L277.57 155.17 L277.61 155.23 L277.64 155.29 L277.67 155.35 L277.71 155.41 L277.74 155.47 L277.77 155.53 L277.80 155.59 L277.84 155.65 L277.87 155.71 L277.90 155.77 L277.94 155.83 L277.97 155.89 L278.00 155.95 L278.04 156.01 L278.07 156.07 L278.10 156.13 L278.13 156.19 L278.17 156.25 L278.20 156.31 L278.23 156.37 L278.27 156.43 L278.30 156.49 L278.33 156.55 L278.37 156.61 L278.40 156.67 L278.43 156.73 L278.46 156.79 L278.50 156.85 L278.53 156.91 L278.53 131.56 L285.47 131.56 L285.47 199.11 L285.50 197.48 L285.53 195.93 L285.57 194.46 L285.60 193.07 L285.63 191.75 L285.67 190.50 L285.70 189.31 L285.73 188.18 L285.76 187.12 L285.80 186.11 L285.83 185.15 L285.86 184.25 L285.90 183.39 L285.93 182.58 L285.96 181.81 L286.00 181.08 L286.03 180.39 L286.06 179.74 L286.09 179.12 L286.13 178.54 L286.16 177.99 L286.19 177.47 L286.23 176.98 L286.26 176.51 L286.29 176.07 L286.33 175.66 L286.36 175.27 L286.39 174.90 L286.42 174.55 L286.46 174.22 L286.49 173.92 L286.52 173.63 L286.56 173.35 L286.59 173.10 L286.62 172.85 L286.65 172.63 L286.69 172.42 L286.72 172.22 L286.75 172.03 L286.79 171.86 L286.82 171.69 L286.85 171.54 L286.89 171.40 L286.92 171.27 L286.95 171.14 L286.98 171.03 L287.02 170.92 L287.05 170.83 L287.08 170.74 L287.12 170.65 L287.15 170.58 L287.18 170.51 L287.22 170.44 L287.25 170.39 L287.28 170.33 L287.31 170.29 L287.35 170.24 L287.38 170.21 L287.41 170.18 L287.45 170.15 L287.48 170.12 L287.51 170.10 L287.55 170.09 L287.58 170.07 L287.61 170.06 L287.64 170.06 L287.68 170.05 L287.71 170.05 L287.74 170.05 L287.78 170.06 L287.81 170.07 L287.84 170.08 L287.88 170.09 L287.91 170.10 L287.94 170.12 L287.97 170.13 L288.01 170.15 L288.04 170.18 L288.07 170.20 L288.11 170.22 L288.14 170.25 L288.17 170.27 L288.21 170.30 L288.24 170.33 L288.27 170.36 L288.30 170.40 L288.34 170.43 L288.37 170.46 L288.40 170.50 L288.44 170.53 L288.47 170.57 L288.50 170.61 L288.54 170.65 L288.57 170.69 L288.60 170.73 L288.63 170.77 L288.67 170.81 L288.70 170.85 L288.73 170.89 L288.77 170.94 L288.80 170.98 L288.83 171.02 L288.87 171.07 L288.90 171.11 L288.93 171.16 L288.96 171.20 L289.00 171.25 L289.03 171.30 L289.06 171.34 L289.10 171.39 L289.13 171.44 L289.16 171.49 L289.20 171.54 L289.23 171.58 L289.26 171.63 L289.29 171.68 L289.33 171.73 L289.36 171.78 L289.39 171.83 L289.43 171.88 L289.46 171.93 L289.49 171.98 L289.53 172.03 L289.56 172.08 L289.59 172.13 L289.62 172.18 L289.66 172.23 L289.69 172.28 L289.72 172.33 L289.76 172.39 L289.79 172.44 L289.82 172.49 L289.86 172.54 L289.89 172.59 L289.92 172.64 L289.95 172.70 L289.99 172.75 L290.02 172.80 L290.05 172.85 L290.09 172.90 L290.12 172.96 L290.15 173.01 L290.19 173.06 L290.22 173.11 L290.25 173.17 L290.28 173.22 L290.32 173.27 L290.35 173.32 L290.38 173.38 L290.42 173.43 L290.45 173.48 L290.48 173.53 L290.52 173.59 L290.55 173.64 L290.58 173.69 L290.61 173.75 L290.65 173.80 L290.68 173.85 L290.71 173.91 L290.75 173.96 L290.78 174.01 L290.81 174.06 L290.85 174.12 L290.88 174.17 L290.91 174.22 L290.94 174.28 L290.98 174.33 L291.01 174.38 L291.04 174.44 L291.08 174.49 L291.11 174.54 L291.14 174.60 L291.18 174.65 L291.21 174.70 L291.24 174.76 L291.27 174.81 L291.31 174.86 L291.34 174.92 L291.37 174.97 L291.41 175.02 L291.44 175.08 L291.47 175.13 L291.51 175.18 L291.54 175.24 L291.57 175.29 L291.60 175.34 L291.64 175.40 L291.67 175.45 L291.70 175.50 L291.74 175.56 L291.77 175.61 L291.80 175.66 L291.84 175.72 L291.87 175.77 L291.90 175.83 L291.93 175.88 L291.97 175.93 L292.00 175.99 L292.03 176.04 L292.07 176.09 L292.07 131.56 L299.00 131.56 L299.00 211.50 L299.04 210.22 L299.07 209.01 L299.10 207.85 L299.14 206.76 L299.17 205.73 L299.20 204.75 L299.23 203.82 L299.27 202.94 L299.30 202.10 L299.33 201.31 L299.37 200.56 L299.40 199.85 L299.43 199.18 L299.47 198.55 L299.50 197.95 L299.53 197.38 L299.56 196.84 L299.60 196.33 L299.63 195.85 L299.66 195.40 L299.70 194.97 L299.73 194.56 L299.76 194.18 L299.80 193.82 L299.83 193.48 L299.86 193.15 L299.89 192.85 L299.93 192.57 L299.96 192.30 L299.99 192.04 L300.03 191.80 L300.06 191.58 L300.09 191.37 L300.12 191.17 L300.16 190.99 L300.19 190.81 L300.22 190.65 L300.26 190.50 L300.29 190.36 L300.32 190.22 L300.36 190.10 L300.39 189.98 L300.42 189.88 L300.45 189.78 L300.49 189.68 L300.52 189.60 L300.55 189.52 L300.59 189.45 L300.62 189.38 L300.65 189.32 L300.69 189.26 L300.72 189.21 L300.75 189.17 L300.78 189.13 L300.82 189.09 L300.85 189.06 L300.88 189.03 L300.92 189.01 L300.95 188.98 L300.98 188.97 L301.02 188.95 L301.05 188.94 L301.08 188.93 L301.11 188.93 L301.15 188.92 L301.18 188.92 L301.21 188.92 L301.25 188.93 L301.28 188.93 L301.31 188.94 L301.35 188.95 L301.38 188.96 L301.41 188.98 L301.44 188.99 L301.48 189.01 L301.51 189.03 L301.54 189.05 L301.58 189.07 L301.61 189.09 L301.64 189.12 L301.68 189.14 L301.71 189.17 L301.74 189.19 L301.77 189.22 L301.81 189.25 L301.84 189.28 L301.87 189.31 L301.91 189.34 L301.94 189.37 L301.97 189.41 L302.01 189.44 L302.04 189.47 L302.07 189.51 L302.10 189.54 L302.14 189.58 L302.17 189.62 L302.20 189.65 L302.24 189.69 L302.27 189.73 L302.30 189.77 L302.34 189.80 L302.37 189.84 L302.40 189.88 L302.43 189.92 L302.47 189.96 L302.50 190.00 L302.53 190.04 L302.57 190.09 L302.60 190.13 L302.63 190.17 L302.67 190.21 L302.70 190.25 L302.73 190.30 L302.76 190.34 L302.80 190.38 L302.83 190.42 L302.86 190.47 L302.90 190.51 L302.93 190.55 L302.96 190.60 L303.00 190.64 L303.03 190.69 L303.06 190.73 L303.09 190.77 L303.13 190.82 L303.16 190.86 L303.19 190.91 L303.23 190.95 L303.26 191.00 L303.29 191.04 L303.33 191.09 L303.36 191.13 L303.39 191.18 L303.42 191.22 L303.46 191.27 L303.49 191.31 L303.52 191.36 L303.56 191.40 L303.59 191.45 L303.62 191.49 L303.66 191.54 L303.69 191.58 L303.72 191.63 L303.75 191.68 L303.79 191.72 L303.82 191.77 L303.85 191.81 L303.89 191.86 L303.92 191.91 L303.95 191.95 L303.99 192.00 L304.02 192.04 L304.05 192.09 L304.08 192.14 L304.12 192.18 L304.15 192.23 L304.18 192.27 L304.22 192.32 L304.25 192.37 L304.28 192.41 L304.32 192.46 L304.35 192.50 L304.38 192.55 L304.41 192.60 L304.45 192.64 L304.48 192.69 L304.51 192.74 L304.55 192.78 L304.58 192.83 L304.61 192.88 L304.65 192.92 L304.68 192.97 L304.71 193.01 L304.74 193.06 L304.78 193.11 L304.81 193.15 L304.84 193.20 L304.88 193.25 L304.91 193.29 L304.94 193.34 L304.98 193.39 L305.01 193.43 L305.04 193.48 L305.07 193.53 L305.11 193.57 L305.14 193.62 L305.17 193.67 L305.21 193.71 L305.24 193.76 L305.27 193.80 L305.31 193.85 L305.34 193.90 L305.37 193.94 L305.40 193.99 L305.44 194.04 L305.47 194.08 L305.50 194.13 L305.54 194.18 L305.57 194.22 L305.60 194.27 L305.60 131.56 L312.54 131.56 L312.54 222.26 L312.57 221.34 L312.61 220.47 L312.64 219.64 L312.67 218.86 L312.70 218.12 L312.74 217.41 L312.77 216.75 L312.80 216.11 L312.84 215.52 L312.87 214.95 L312.90 214.41 L312.94 213.91 L312.97 213.42 L313.00 212.97 L313.03 212.54 L313.07 212.13 L313.10 211.75 L313.13 211.38 L313.17 211.04 L313.20 210.71 L313.23 210.41 L313.27 210.12 L313.30 209.84 L313.33 209.59 L313.36 209.34 L313.40 209.11 L313.43 208.90 L313.46 208.69 L313.50 208.50 L313.53 208.32 L313.56 208.15 L313.60 207.99 L313.63 207.84 L313.66 207.70 L313.69 207.57 L313.73 207.45 L313.76 207.33 L313.79 207.22 L313.83 207.12 L313.86 207.03 L313.89 206.94 L313.92 206.86 L313.96 206.78 L313.99 206.71 L314.02 206.65 L314.06 206.59 L314.09 206.53 L314.12 206.48 L314.16 206.44 L314.19 206.39 L314.22 206.36 L314.25 206.32 L314.29 206.29 L314.32 206.26 L314.35 206.24 L314.39 206.22 L314.42 206.20 L314.45 206.18 L314.49 206.17 L314.52 206.16 L314.55 206.15 L314.58 206.14 L314.62 206.14 L314.65 206.13 L314.68 206.13 L314.72 206.13 L314.75 206.14 L314.78 206.14 L314.82 206.15 L314.85 206.15 L314.88 206.16 L314.91 206.17 L314.95 206.18 L314.98 206.20 L315.01 206.21 L315.05 206.22 L315.08 206.24 L315.11 206.26 L315.15 206.27 L315.18 206.29 L315.21 206.31 L315.24 206.33 L315.28 206.35 L315.31 206.37 L315.34 206.40 L315.38 206.42 L315.41 206.44 L315.44 206.47 L315.48 206.49 L315.51 206.52 L315.54 206.54 L315.57 206.57 L315.61 206.60 L315.64 206.62 L315.67 206.65 L315.71 206.68 L315.74 206.71 L315.77 206.73 L315.81 206.76 L315.84 206.79 L315.87 206.82 L315.90 206.85 L315.94 206.88 L315.97 206.91 L316.00 206.94 L316.04 206.97 L316.07 207.00 L316.10 207.03 L316.14 207.07 L316.17 207.10 L316.20 207.13 L316.23 207.16 L316.27 207.19 L316.30 207.22 L316.33 207.26 L316.37 207.29 L316.40 207.32 L316.43 207.35 L316.47 207.39 L316.50 207.42 L316.53 207.45 L316.56 207.49 L316.60 207.52 L316.63 207.55 L316.66 207.59 L316.70 207.62 L316.73 207.65 L316.76 207.69 L316.80 207.72 L316.83 207.75 L316.86 207.79 L316.89 207.82 L316.93 207.86 L316.96 207.89 L316.99 207.92 L317.03 207.96 L317.06 207.99 L317.09 208.03 L317.13 208.06 L317.16 208.10 L317.19 208.13 L317.22 208.16 L317.26 208.20 L317.29 208.23 L317.32 208.27 L317.36 208.30 L317.39 208.34 L317.42 208.37 L317.46 208.41 L317.49 208.44 L317.52 208.47 L317.55 208.51 L317.59 208.54 L317.62 208.58 L317.65 208.61 L317.69 208.65 L317.72 208.68 L317.75 208.72 L317.79 208.75 L317.82 208.79 L317.85 208.82 L317.88 208.86 L317.92 208.89 L317.95 208.93 L317.98 208.96 L318.02 209.00 L318.05 209.03 L318.08 209.07 L318.12 209.10 L318.15 209.13 L318.18 209.17 L318.21 209.20 L318.25 209.24 L318.28 209.27 L318.31 209.31 L318.35 209.34 L318.38 209.38 L318.41 209.41 L318.45 209.45 L318.48 209.48 L318.51 209.52 L318.54 209.55 L318.58 209.59 L318.61 209.62 L318.64 209.66 L318.68 209.69 L318.71 209.73 L318.74 209.76 L318.78 209.80 L318.81 209.83 L318.84 209.87 L318.87 209.90 L318.91 209.94 L318.94 209.97 L318.97 210.01 L319.01 210.04 L319.04 210.08 L319.07 210.11 L319.11 210.15 L319.14 210.18 L319.14 131.56 L326.08 131.56 L326.08 230.90 L326.11 230.21 L326.14 229.56 L326.17 228.94 L326.21 228.36 L326.24 227.80 L326.27 227.27 L326.31 226.77 L326.34 226.29 L326.37 225.84 L326.41 225.42 L326.44 225.01 L326.47 224.63 L326.50 224.26 L326.54 223.92 L326.57 223.59 L326.60 223.28 L326.64 222.99 L326.67 222.71 L326.70 222.45 L326.74 222.20 L326.77 221.96 L326.80 221.74 L326.83 221.53 L326.87 221.33 L326.90 221.14 L326.93 220.96 L326.97 220.79 L327.00 220.63 L327.03 220.48 L327.07 220.34 L327.10 220.20 L327.13 220.08 L327.16 219.96 L327.20 219.84 L327.23 219.74 L327.26 219.64 L327.30 219.54 L327.33 219.45 L327.36 219.37 L327.39 219.29 L327.43 219.22 L327.46 219.15 L327.49 219.08 L327.53 219.02 L327.56 218.96 L327.59 218.91 L327.63 218.86 L327.66 218.81 L327.69 218.77 L327.72 218.73 L327.76 218.69 L327.79 218.66 L327.82 218.63 L327.86 218.60 L327.89 218.57 L327.92 218.54 L327.96 218.52 L327.99 218.50 L328.02 218.48 L328.05 218.46 L328.09 218.45 L328.12 218.43 L328.15 218.42 L328.19 218.41 L328.22 218.40 L328.25 218.39 L328.29 218.38 L328.32 218.37 L328.35 218.37 L328.38 218.37 L328.42 218.36 L328.45 218.36 L328.48 218.36 L328.52 218.36 L328.55 218.36 L328.58 218.36 L328.62 218.36 L328.65 218.37 L328.68 218.37 L328.71 218.38 L328.75 218.38 L328.78 218.39 L328.81 218.39 L328.85 218.40 L328.88 218.41 L328.91 218.41 L328.95 218.42 L328.98 218.43 L329.01 218.44 L329.04 218.45 L329.08 218.46 L329.11 218.47 L329.14 218.48 L329.18 218.49 L329.21 218.50 L329.24 218.51 L329.28 218.52 L329.31 218.53 L329.34 218.54 L329.37 218.56 L329.41 218.57 L329.44 218.58 L329.47 218.59 L329.51 218.61 L329.54 218.62 L329.57 218.63 L329.61 218.65 L329.64 218.66 L329.67 218.67 L329.70 218.69 L329.74 218.70 L329.77 218.72 L329.80 218.73 L329.84 218.74 L329.87 218.76 L329.90 218.77 L329.94 218.79 L329.97 218.80 L330.00 218.82 L330.03 218.83 L330.07 218.85 L330.10 218.86 L330.13 218.88 L330.17 218.89 L330.20 218.91 L330.23 218.92 L330.27 218.94 L330.30 218.95 L330.33 218.97 L330.36 218.99 L330.40 219.00 L330.43 219.02 L330.46 219.03 L330.50 219.05 L330.53 219.06 L330.56 219.08 L330.60 219.10 L330.63 219.11 L330.66 219.13 L330.69 219.14 L330.73 219.16 L330.76 219.17 L330.79 219.19 L330.83 219.21 L330.86 219.22 L330.89 219.24 L330.93 219.26 L330.96 219.27 L330.99 219.29 L331.02 219.30 L331.06 219.32 L331.09 219.34 L331.12 219.35 L331.16 219.37 L331.19 219.38 L331.22 219.40 L331.26 219.42 L331.29 219.43 L331.32 219.45 L331.35 219.47 L331.39 219.48 L331.42 219.50 L331.45 219.51 L331.49 219.53 L331.52 219.55 L331.55 219.56 L331.59 219.58 L331.62 219.60 L331.65 219.61 L331.68 219.63 L331.72 219.65 L331.75 219.66 L331.78 219.68 L331.82 219.69 L331.85 219.71 L331.88 219.73 L331.92 219.74 L331.95 219.76 L331.98 219.78 L332.01 219.79 L332.05 219.81 L332.08 219.83 L332.11 219.84 L332.15 219.86 L332.18 219.88 L332.21 219.89 L332.25 219.91 L332.28 219.92 L332.31 219.94 L332.34 219.96 L332.38 219.97 L332.41 219.99 L332.44 220.01 L332.48 220.02 L332.51 220.04 L332.54 220.06 L332.58 220.07 L332.61 220.09 L332.64 220.11 L332.67 220.12 L332.67 131.56 L339.61 131.56 L339.61 236.22 L339.64 235.67 L339.68 235.15 L339.71 234.65 L339.74 234.18 L339.78 233.73 L339.81 233.31 L339.84 232.90 L339.88 232.52 L339.91 232.16 L339.94 231.82 L339.97 231.49 L340.01 231.18 L340.04 230.89 L340.07 230.61 L340.11 230.35 L340.14 230.10 L340.17 229.87 L340.21 229.64 L340.24 229.43 L340.27 229.23 L340.30 229.04 L340.34 228.86 L340.37 228.69 L340.40 228.53 L340.44 228.38 L340.47 228.23 L340.50 228.10 L340.54 227.97 L340.57 227.85 L340.60 227.73 L340.63 227.62 L340.67 227.52 L340.70 227.43 L340.73 227.33 L340.77 227.25 L340.80 227.17 L340.83 227.09 L340.86 227.02 L340.90 226.95 L340.93 226.89 L340.96 226.83 L341.00 226.77 L341.03 226.72 L341.06 226.67 L341.10 226.62 L341.13 226.58 L341.16 226.54 L341.19 226.50 L341.23 226.47 L341.26 226.43 L341.29 226.40 L341.33 226.37 L341.36 226.35 L341.39 226.32 L341.43 226.30 L341.46 226.28 L341.49 226.26 L341.52 226.24 L341.56 226.23 L341.59 226.21 L341.62 226.20 L341.66 226.19 L341.69 226.17 L341.72 226.16 L341.76 226.16 L341.79 226.15 L341.82 226.14 L341.85 226.14 L341.89 226.13 L341.92 226.13 L341.95 226.13 L341.99 226.12 L342.02 226.12 L342.05 226.12 L342.09 226.12 L342.12 226.12 L342.15 226.12 L342.18 226.13 L342.22 226.13 L342.25 226.13 L342.28 226.13 L342.32 226.14 L342.35 226.14 L342.38 226.15 L342.42 226.15 L342.45 226.16 L342.48 226.16 L342.51 226.17 L342.55 226.18 L342.58 226.18 L342.61 226.19 L342.65 226.20 L342.68 226.21 L342.71 226.21 L342.75 226.22 L342.78 226.23 L342.81 226.24 L342.84 226.25 L342.88 226.26 L342.91 226.27 L342.94 226.27 L342.98 226.28 L343.01 226.29 L343.04 226.30 L343.08 226.31 L343.11 226.32 L343.14 226.33 L343.17 226.34 L343.21 226.35 L343.24 226.37 L343.27 226.38 L343.31 226.39 L343.34 226.40 L343.37 226.41 L343.41 226.42 L343.44 226.43 L343.47 226.44 L343.50 226.45 L343.54 226.46 L343.57 226.48 L343.60 226.49 L343.64 226.50 L343.67 226.51 L343.70 226.52 L343.74 226.53 L343.77 226.55 L343.80 226.56 L343.83 226.57 L343.87 226.58 L343.90 226.59 L343.93 226.61 L343.97 226.62 L344.00 226.63 L344.03 226.64 L344.07 226.65 L344.10 226.67 L344.13 226.68 L344.16 226.69 L344.20 226.70 L344.23 226.71 L344.26 226.73 L344.30 226.74 L344.33 226.75 L344.36 226.76 L344.40 226.78 L344.43 226.79 L344.46 226.80 L344.49 226.81 L344.53 226.83 L344.56 226.84 L344.59 226.85 L344.63 226.86 L344.66 226.88 L344.69 226.89 L344.73 226.90 L344.76 226.91 L344.79 226.93 L344.82 226.94 L344.86 226.95 L344.89 226.96 L344.92 226.98 L344.96 226.99 L344.99 227.00 L345.02 227.01 L345.06 227.03 L345.09 227.04 L345.12 227.05 L345.15 227.06 L345.19 227.08 L345.22 227.09 L345.25 227.10 L345.29 227.11 L345.32 227.13 L345.35 227.14 L345.39 227.15 L345.42 227.16 L345.45 227.18 L345.48 227.19 L345.52 227.20 L345.55 227.22 L345.58 227.23 L345.62 227.24 L345.65 227.25 L345.68 227.27 L345.72 227.28 L345.75 227.29 L345.78 227.30 L345.81 227.32 L345.85 227.33 L345.88 227.34 L345.91 227.35 L345.95 227.37 L345.98 227.38 L346.01 227.39 L346.05 227.40 L346.08 227.42 L346.11 227.43 L346.14 227.44 L346.18 227.46 L346.21 227.47 L346.21 131.56 L353.15 131.56 L353.15 239.31 L353.18 238.82 L353.21 238.36 L353.25 237.93 L353.28 237.51 L353.31 237.12 L353.35 236.75 L353.38 236.39 L353.41 236.06 L353.44 235.74 L353.48 235.44 L353.51 235.15 L353.54 234.88 L353.58 234.62 L353.61 234.37 L353.64 234.14 L353.68 233.92 L353.71 233.71 L353.74 233.51 L353.77 233.33 L353.81 233.15 L353.84 232.98 L353.87 232.82 L353.91 232.67 L353.94 232.52 L353.97 232.38 L354.01 232.26 L354.04 232.13 L354.07 232.02 L354.10 231.91 L354.14 231.80 L354.17 231.70 L354.20 231.61 L354.24 231.52 L354.27 231.44 L354.30 231.36 L354.33 231.28 L354.37 231.21 L354.40 231.15 L354.43 231.08 L354.47 231.02 L354.50 230.97 L354.53 230.91 L354.57 230.86 L354.60 230.82 L354.63 230.77 L354.66 230.73 L354.70 230.69 L354.73 230.65 L354.76 230.62 L354.80 230.58 L354.83 230.55 L354.86 230.52 L354.90 230.50 L354.93 230.47 L354.96 230.45 L354.99 230.42 L355.03 230.40 L355.06 230.38 L355.09 230.36 L355.13 230.35 L355.16 230.33 L355.19 230.32 L355.23 230.30 L355.26 230.29 L355.29 230.28 L355.32 230.27 L355.36 230.26 L355.39 230.25 L355.42 230.24 L355.46 230.23 L355.49 230.22 L355.52 230.22 L355.56 230.21 L355.59 230.21 L355.62 230.20 L355.65 230.20 L355.69 230.20 L355.72 230.19 L355.75 230.19 L355.79 230.19 L355.82 230.19 L355.85 230.19 L355.89 230.19 L355.92 230.19 L355.95 230.19 L355.98 230.19 L356.02 230.19 L356.05 230.19 L356.08 230.19 L356.12 230.19 L356.15 230.19 L356.18 230.19 L356.22 230.20 L356.25 230.20 L356.28 230.20 L356.31 230.20 L356.35 230.21 L356.38 230.21 L356.41 230.21 L356.45 230.22 L356.48 230.22 L356.51 230.22 L356.55 230.23 L356.58 230.23 L356.61 230.24 L356.64 230.24 L356.68 230.24 L356.71 230.25 L356.74 230.25 L356.78 230.26 L356.81 230.26 L356.84 230.27 L356.88 230.27 L356.91 230.28 L356.94 230.28 L356.97 230.29 L357.01 230.29 L357.04 230.30 L357.07 230.30 L357.11 230.31 L357.14 230.32 L357.17 230.32 L357.21 230.33 L357.24 230.33 L357.27 230.34 L357.30 230.34 L357.34 230.35 L357.37 230.36 L357.40 230.36 L357.44 230.37 L357.47 230.37 L357.50 230.38 L357.54 230.39 L357.57 230.39 L357.60 230.40 L357.63 230.40 L357.67 230.41 L357.70 230.42 L357.73 230.42 L357.77 230.43 L357.80 230.43 L357.83 230.44 L357.87 230.45 L357.90 230.45 L357.93 230.46 L357.96 230.47 L358.00 230.47 L358.03 230.48 L358.06 230.48 L358.10 230.49 L358.13 230.50 L358.16 230.50 L358.20 230.51 L358.23 230.52 L358.26 230.52 L358.29 230.53 L358.33 230.54 L358.36 230.54 L358.39 230.55 L358.43 230.55 L358.46 230.56 L358.49 230.57 L358.53 230.57 L358.56 230.58 L358.59 230.59 L358.62 230.59 L358.66 230.60 L358.69 230.61 L358.72 230.61 L358.76 230.62 L358.79 230.63 L358.82 230.63 L358.86 230.64 L358.89 230.65 L358.92 230.65 L358.95 230.66 L358.99 230.66 L359.02 230.67 L359.05 230.68 L359.09 230.68 L359.12 230.69 L359.15 230.70 L359.19 230.70 L359.22 230.71 L359.25 230.72 L359.28 230.72 L359.32 230.73 L359.35 230.74 L359.38 230.74 L359.42 230.75 L359.45 230.76 L359.48 230.76 L359.52 230.77 L359.55 230.78 L359.58 230.78 L359.61 230.79 L359.65 230.79 L359.68 230.80 L359.71 230.81 L359.75 230.81 L359.75 131.56 L366.68 131.56 L366.68 240.25 L366.72 239.79 L366.75 239.36 L366.78 238.95 L366.82 238.55 L366.85 238.18 L366.88 237.83 L366.91 237.49 L366.95 237.17 L366.98 236.87 L367.01 236.58 L367.05 236.30 L367.08 236.04 L367.11 235.79 L367.15 235.55 L367.18 235.33 L367.21 235.12 L367.24 234.91 L367.28 234.72 L367.31 234.54 L367.34 234.36 L367.38 234.20 L367.41 234.04 L367.44 233.89 L367.48 233.74 L367.51 233.61 L367.54 233.48 L367.57 233.36 L367.61 233.24 L367.64 233.13 L367.67 233.02 L367.71 232.92 L367.74 232.82 L367.77 232.73 L367.80 232.65 L367.84 232.56 L367.87 232.48 L367.90 232.41 L367.94 232.34 L367.97 232.27 L368.00 232.20 L368.04 232.14 L368.07 232.08 L368.10 232.03 L368.13 231.97 L368.17 231.92 L368.20 231.87 L368.23 231.83 L368.27 231.78 L368.30 231.74 L368.33 231.70 L368.37 231.66 L368.40 231.62 L368.43 231.59 L368.46 231.55 L368.50 231.52 L368.53 231.49 L368.56 231.46 L368.60 231.43 L368.63 231.41 L368.66 231.38 L368.70 231.36 L368.73 231.33 L368.76 231.31 L368.79 231.29 L368.83 231.27 L368.86 231.25 L368.89 231.23 L368.93 231.21 L368.96 231.19 L368.99 231.18 L369.03 231.16 L369.06 231.14 L369.09 231.13 L369.12 231.12 L369.16 231.10 L369.19 231.09 L369.22 231.08 L369.26 231.06 L369.29 231.05 L369.32 231.04 L369.36 231.03 L369.39 231.02 L369.42 231.01 L369.45 231.00 L369.49 230.99 L369.52 230.98 L369.55 230.97 L369.59 230.96 L369.62 230.95 L369.65 230.94 L369.69 230.93 L369.72 230.93 L369.75 230.92 L369.78 230.91 L369.82 230.90 L369.85 230.89 L369.88 230.89 L369.92 230.88 L369.95 230.87 L369.98 230.87 L370.02 230.86 L370.05 230.85 L370.08 230.85 L370.11 230.84 L370.15 230.84 L370.18 230.83 L370.21 230.83 L370.25 230.82 L370.28 230.81 L370.31 230.81 L370.35 230.80 L370.38 230.80 L370.41 230.79 L370.44 230.79 L370.48 230.78 L370.51 230.78 L370.54 230.77 L370.58 230.77 L370.61 230.76 L370.64 230.76 L370.68 230.75 L370.71 230.75 L370.74 230.74 L370.77 230.74 L370.81 230.73 L370.84 230.73 L370.87 230.73 L370.91 230.72 L370.94 230.72 L370.97 230.71 L371.01 230.71 L371.04 230.70 L371.07 230.70 L371.10 230.70 L371.14 230.69 L371.17 230.69 L371.20 230.68 L371.24 230.68 L371.27 230.67 L371.30 230.67 L371.34 230.67 L371.37 230.66 L371.40 230.66 L371.43 230.65 L371.47 230.65 L371.50 230.65 L371.53 230.64 L371.57 230.64 L371.60 230.63 L371.63 230.63 L371.67 230.63 L371.70 230.62 L371.73 230.62 L371.76 230.61 L371.80 230.61 L371.83 230.61 L371.86 230.60 L371.90 230.60 L371.93 230.59 L371.96 230.59 L372.00 230.59 L372.03 230.58 L372.06 230.58 L372.09 230.57 L372.13 230.57 L372.16 230.57 L372.19 230.56 L372.23 230.56 L372.26 230.56 L372.29 230.55 L372.33 230.55 L372.36 230.54 L372.39 230.54 L372.42 230.54 L372.46 230.53 L372.49 230.53 L372.52 230.52 L372.56 230.52 L372.59 230.52 L372.62 230.51 L372.66 230.51 L372.69 230.51 L372.72 230.50 L372.75 230.50 L372.79 230.49 L372.82 230.49 L372.85 230.49 L372.89 230.48 L372.92 230.48 L372.95 230.48 L372.99 230.47 L373.02 230.47 L373.05 230.46 L373.08 230.46 L373.12 230.46 L373.15 230.45 L373.18 230.45 L373.22 230.44 L373.25 230.44 L373.28 230.44 L373.28 131.56 L380.05 131.56" fill="none" stroke="#111" stroke-width="1.22" stroke-linejoin="miter" stroke-miterlimit="3"/>
<path d="M41.65 130.30 L42.33 129.44 L43.00 128.57 L43.68 127.71 L44.36 126.84 L45.03 125.98 L45.71 125.12 L46.39 124.25 L47.06 123.39 L47.74 122.53 L48.42 121.67 L49.09 120.81 L49.77 119.95 L50.45 119.09 L51.13 118.23 L51.80 117.38 L52.48 116.52 L53.16 115.67 L53.83 114.82 L54.51 113.97 L55.19 113.12 L55.86 112.27 L56.54 111.43 L57.22 110.58 L57.89 109.74 L58.57 108.90 L59.25 108.07 L59.92 107.23 L60.60 106.40 L61.28 105.57 L61.95 104.74 L62.63 103.91 L63.31 103.09 L63.98 102.27 L64.66 101.45 L65.34 100.63 L66.01 99.82 L66.69 99.01 L67.37 98.20 L68.05 97.40 L68.72 96.60 L69.40 95.80 L70.08 95.01 L70.75 94.22 L71.43 93.43 L72.11 92.65 L72.78 91.87 L73.46 91.09 L74.14 90.32 L74.81 89.55 L75.49 88.79 L76.17 88.03 L76.84 87.27 L77.52 86.52 L78.20 85.77 L78.87 85.03 L79.55 84.29 L80.23 83.55 L80.90 82.82 L81.58 82.10 L82.26 81.38 L82.93 80.66 L83.61 79.95 L84.29 79.24 L84.97 78.54 L85.64 77.84 L86.32 77.15 L87.00 76.46 L87.67 75.78 L88.35 75.11 L89.03 74.44 L89.70 73.77 L90.38 73.11 L91.06 72.45 L91.73 71.81 L92.41 71.16 L93.09 70.52 L93.76 69.89 L94.44 69.27 L95.12 68.65 L95.79 68.03 L96.47 67.42 L97.15 66.82 L97.82 66.23 L98.50 65.64 L99.18 65.05 L99.85 64.47 L100.53 63.90 L101.21 63.34 L101.89 62.78 L102.56 62.23 L103.24 61.68 L103.92 61.14 L104.59 60.61 L105.27 60.09 L105.95 59.57 L106.62 59.06 L107.30 58.55 L107.98 58.06 L108.65 57.56 L109.33 57.08 L110.01 56.60 L110.68 56.13 L111.36 55.67 L112.04 55.22 L112.71 54.77 L113.39 54.33 L114.07 53.89 L114.74 53.47 L115.42 53.05 L116.10 52.64 L116.77 52.23 L117.45 51.84 L118.13 51.45 L118.81 51.07 L119.48 50.69 L120.16 50.33 L120.84 49.97 L121.51 49.62 L122.19 49.28 L122.87 48.94 L123.54 48.62 L124.22 48.30 L124.90 47.99 L125.57 47.68 L126.25 47.39 L126.93 47.10 L127.60 46.82 L128.28 46.55 L128.96 46.29 L129.63 46.03 L130.31 45.78 L130.99 45.55 L131.66 45.32 L132.34 45.09 L133.02 44.88 L133.69 44.67 L134.37 44.48 L135.05 44.29 L135.73 44.10 L136.40 43.93 L137.08 43.77 L137.76 43.61 L138.43 43.46 L139.11 43.32 L139.79 43.19 L140.46 43.07 L141.14 42.96 L141.82 42.85 L142.49 42.75 L143.17 42.66 L143.85 42.58 L144.52 42.51 L145.20 42.45 L145.88 42.39 L146.55 42.35 L147.23 42.31 L147.91 42.28 L148.58 42.26 L149.26 42.24 L149.94 42.24 L150.61 42.24 L151.29 42.26 L151.97 42.28 L152.65 42.31 L153.32 42.35 L154.00 42.39 L154.68 42.45 L155.35 42.51 L156.03 42.58 L156.71 42.66 L157.38 42.75 L158.06 42.85 L158.74 42.96 L159.41 43.07 L160.09 43.19 L160.77 43.32 L161.44 43.46 L162.12 43.61 L162.80 43.77 L163.47 43.93 L164.15 44.10 L164.83 44.29 L165.50 44.48 L166.18 44.67 L166.86 44.88 L167.53 45.09 L168.21 45.32 L168.89 45.55 L169.57 45.78 L170.24 46.03 L170.92 46.29 L171.60 46.55 L172.27 46.82 L172.95 47.10 L173.63 47.39 L174.30 47.68 L174.98 47.99 L175.66 48.30 L176.33 48.62 L177.01 48.94 L177.69 49.28 L178.36 49.62 L179.04 49.97 L179.72 50.33 L180.39 50.69 L181.07 51.07 L181.75 51.45 L182.42 51.84 L183.10 52.23 L183.78 52.64 L184.45 53.05 L185.13 53.47 L185.81 53.89 L186.49 54.33 L187.16 54.77 L187.84 55.22 L188.52 55.67 L189.19 56.13 L189.87 56.60 L190.55 57.08 L191.22 57.56 L191.90 58.06 L192.58 58.55 L193.25 59.06 L193.93 59.57 L194.61 60.09 L195.28 60.61 L195.96 61.14 L196.64 61.68 L197.31 62.23 L197.99 62.78 L198.67 63.34 L199.34 63.90 L200.02 64.47 L200.70 65.05 L201.37 65.64 L202.05 66.23 L202.73 66.82 L203.41 67.42 L204.08 68.03 L204.76 68.65 L205.44 69.27 L206.11 69.89 L206.79 70.52 L207.47 71.16 L208.14 71.81 L208.82 72.45 L209.50 73.11 L210.17 73.77 L210.85 74.44 L211.53 75.11 L212.20 75.78 L212.88 76.46 L213.56 77.15 L214.23 77.84 L214.91 78.54 L215.59 79.24 L216.26 79.95 L216.94 80.66 L217.62 81.38 L218.29 82.10 L218.97 82.82 L219.65 83.55 L220.33 84.29 L221.00 85.03 L221.68 85.77 L222.36 86.52 L223.03 87.27 L223.71 88.03 L224.39 88.79 L225.06 89.55 L225.74 90.32 L226.42 91.09 L227.09 91.87 L227.77 92.65 L228.45 93.43 L229.12 94.22 L229.80 95.01 L230.48 95.80 L231.15 96.60 L231.83 97.40 L232.51 98.20 L233.18 99.01 L233.86 99.82 L234.54 100.63 L235.21 101.45 L235.89 102.27 L236.57 103.09 L237.25 103.91 L237.92 104.74 L238.60 105.57 L239.28 106.40 L239.95 107.23 L240.63 108.07 L241.31 108.90 L241.98 109.74 L242.66 110.58 L243.34 111.43 L244.01 112.27 L244.69 113.12 L245.37 113.97 L246.04 114.82 L246.72 115.67 L247.40 116.52 L248.07 117.38 L248.75 118.23 L249.43 119.09 L250.10 119.95 L250.78 120.81 L251.46 121.67 L252.13 122.53 L252.81 123.39 L253.49 124.25 L254.17 125.12 L254.84 125.98 L255.52 126.84 L256.20 127.71 L256.87 128.57 L257.55 129.44 L258.23 130.30 L258.90 131.16 L259.58 132.03 L260.26 132.89 L260.93 133.76 L261.61 134.62 L262.29 135.48 L262.96 136.35 L263.64 137.21 L264.32 138.07 L264.99 138.93 L265.67 139.79 L266.35 140.65 L267.02 141.51 L267.70 142.37 L268.38 143.22 L269.05 144.08 L269.73 144.93 L270.41 145.78 L271.09 146.63 L271.76 147.48 L272.44 148.33 L273.12 149.17 L273.79 150.02 L274.47 150.86 L275.15 151.70 L275.82 152.53 L276.50 153.37 L277.18 154.20 L277.85 155.03 L278.53 155.86 L279.21 156.69 L279.88 157.51 L280.56 158.33 L281.24 159.15 L281.91 159.97 L282.59 160.78 L283.27 161.59 L283.94 162.40 L284.62 163.20 L285.30 164.00 L285.97 164.80 L286.65 165.59 L287.33 166.38 L288.01 167.17 L288.68 167.95 L289.36 168.73 L290.04 169.51 L290.71 170.28 L291.39 171.05 L292.07 171.81 L292.74 172.57 L293.42 173.33 L294.10 174.08 L294.77 174.83 L295.45 175.57 L296.13 176.31 L296.80 177.05 L297.48 177.78 L298.16 178.50 L298.83 179.22 L299.51 179.94 L300.19 180.65 L300.86 181.36 L301.54 182.06 L302.22 182.76 L302.89 183.45 L303.57 184.14 L304.25 184.82 L304.93 185.49 L305.60 186.16 L306.28 186.83 L306.96 187.49 L307.63 188.15 L308.31 188.79 L308.99 189.44 L309.66 190.08 L310.34 190.71 L311.02 191.33 L311.69 191.95 L312.37 192.57 L313.05 193.18 L313.72 193.78 L314.40 194.37 L315.08 194.96 L315.75 195.55 L316.43 196.13 L317.11 196.70 L317.78 197.26 L318.46 197.82 L319.14 198.37 L319.81 198.92 L320.49 199.46 L321.17 199.99 L321.85 200.51 L322.52 201.03 L323.20 201.54 L323.88 202.05 L324.55 202.54 L325.23 203.04 L325.91 203.52 L326.58 204.00 L327.26 204.47 L327.94 204.93 L328.61 205.38 L329.29 205.83 L329.97 206.27 L330.64 206.71 L331.32 207.13 L332.00 207.55 L332.67 207.96 L333.35 208.37 L334.03 208.76 L334.70 209.15 L335.38 209.53 L336.06 209.91 L336.73 210.27 L337.41 210.63 L338.09 210.98 L338.77 211.32 L339.44 211.66 L340.12 211.98 L340.80 212.30 L341.47 212.61 L342.15 212.92 L342.83 213.21 L343.50 213.50 L344.18 213.78 L344.86 214.05 L345.53 214.31 L346.21 214.57 L346.89 214.82 L347.56 215.05 L348.24 215.28 L348.92 215.51 L349.59 215.72 L350.27 215.93 L350.95 216.12 L351.62 216.31 L352.30 216.50 L352.98 216.67 L353.65 216.83 L354.33 216.99 L355.01 217.14 L355.69 217.28 L356.36 217.41 L357.04 217.53 L357.72 217.64 L358.39 217.75 L359.07 217.85 L359.75 217.94 L360.42 218.02 L361.10 218.09 L361.78 218.15 L362.45 218.21 L363.13 218.25 L363.81 218.29 L364.48 218.32 L365.16 218.34 L365.84 218.36 L366.51 218.36 L367.19 218.36 L367.87 218.34 L368.54 218.32 L369.22 218.29 L369.90 218.25 L370.57 218.21 L371.25 218.15 L371.93 218.09 L372.61 218.02 L373.28 217.94 L373.96 217.85 L374.64 217.75 L375.31 217.64 L375.99 217.53 L376.67 217.41 L377.34 217.28 L378.02 217.14 L378.70 216.99 L379.37 216.83 L380.05 216.67" fill="none" stroke="#111" stroke-width="1.1" stroke-dasharray="2 1.5"/>
</svg></body></html>
